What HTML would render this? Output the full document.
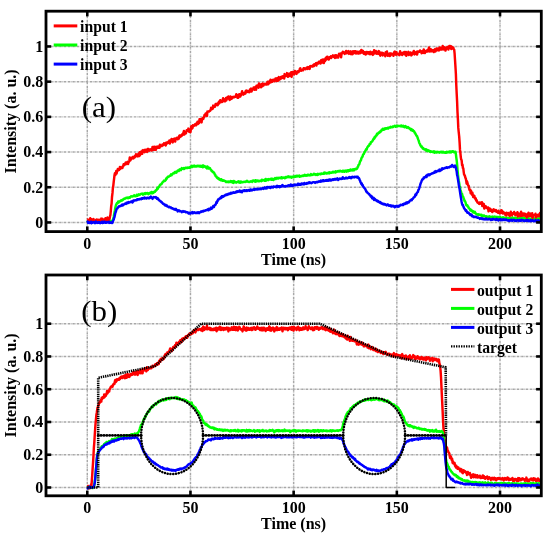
<!DOCTYPE html>
<html><head><meta charset="utf-8"><title>Pulse shaping</title>
<style>html,body{margin:0;padding:0;background:#fff}svg{display:block}</style></head>
<body>
<svg width="550" height="536" viewBox="0 0 550 536">
<style>text{font-family:"Liberation Serif",serif;fill:#000}.b{font-weight:bold;font-size:16px}.lg{font-size:15.7px}.p{font-size:29.6px}</style>
<rect width="550" height="536" fill="#fff"/>
<line x1="87.28" y1="11.2" x2="87.28" y2="231.6" stroke="#a8a8a8" stroke-width="1.45" stroke-dasharray="2.4 0.7 0.6 0.7"/>
<line x1="190.46" y1="11.2" x2="190.46" y2="231.6" stroke="#a8a8a8" stroke-width="1.45" stroke-dasharray="2.4 0.7 0.6 0.7"/>
<line x1="293.65" y1="11.2" x2="293.65" y2="231.6" stroke="#a8a8a8" stroke-width="1.45" stroke-dasharray="2.4 0.7 0.6 0.7"/>
<line x1="396.84" y1="11.2" x2="396.84" y2="231.6" stroke="#a8a8a8" stroke-width="1.45" stroke-dasharray="2.4 0.7 0.6 0.7"/>
<line x1="500.02" y1="11.2" x2="500.02" y2="231.6" stroke="#a8a8a8" stroke-width="1.45" stroke-dasharray="2.4 0.7 0.6 0.7"/>
<line x1="46.0" y1="222.45" x2="541.3" y2="222.45" stroke="#a8a8a8" stroke-width="1.45" stroke-dasharray="2.4 0.7 0.6 0.7"/>
<line x1="46.0" y1="187.25" x2="541.3" y2="187.25" stroke="#a8a8a8" stroke-width="1.45" stroke-dasharray="2.4 0.7 0.6 0.7"/>
<line x1="46.0" y1="152.05" x2="541.3" y2="152.05" stroke="#a8a8a8" stroke-width="1.45" stroke-dasharray="2.4 0.7 0.6 0.7"/>
<line x1="46.0" y1="116.85" x2="541.3" y2="116.85" stroke="#a8a8a8" stroke-width="1.45" stroke-dasharray="2.4 0.7 0.6 0.7"/>
<line x1="46.0" y1="81.65" x2="541.3" y2="81.65" stroke="#a8a8a8" stroke-width="1.45" stroke-dasharray="2.4 0.7 0.6 0.7"/>
<line x1="46.0" y1="46.45" x2="541.3" y2="46.45" stroke="#a8a8a8" stroke-width="1.45" stroke-dasharray="2.4 0.7 0.6 0.7"/>
<clipPath id="c1"><rect x="46.0" y="11.2" width="495.30" height="220.40"/></clipPath>
<g clip-path="url(#c1)" fill="none" stroke-linejoin="round" stroke-width="2.45">
<path d="M87.3 220.4 L87.7 221.1 L88.1 221.3 L88.5 221.5 L88.9 221.6 L89.3 221.5 L89.8 221.6 L90.2 221.1 L90.6 221.5 L91.0 221.6 L91.4 221.9 L91.8 221.4 L92.2 221.7 L92.6 221.5 L93.1 221.0 L93.5 221.3 L93.9 221.2 L94.3 221.3 L94.7 221.4 L95.1 221.4 L95.5 221.5 L95.9 221.1 L96.4 221.8 L96.8 220.9 L97.2 221.4 L97.6 221.7 L98.0 221.6 L98.4 221.7 L98.8 221.3 L99.2 221.7 L99.7 221.0 L100.1 221.7 L100.5 222.3 L100.9 221.7 L101.3 222.2 L101.7 221.4 L102.1 221.0 L102.5 221.1 L103.0 221.9 L103.4 221.7 L103.8 220.7 L104.2 221.3 L104.6 221.4 L105.0 221.0 L105.4 220.4 L105.8 220.9 L106.3 221.3 L106.7 221.3 L107.1 221.2 L107.5 221.6 L107.9 221.8 L108.3 221.4 L108.7 221.8 L109.2 221.4 L109.6 221.4 L110.0 220.5 L110.4 221.7 L110.8 221.4 L111.2 221.5 L111.6 221.2 L112.0 220.7 L112.5 220.6 L112.9 219.7 L113.3 218.7 L113.7 216.9 L114.1 214.5 L114.5 212.4 L114.9 210.3 L115.3 207.7 L115.8 205.8 L116.2 204.3 L116.6 203.9 L117.0 203.1 L117.4 203.3 L117.8 202.7 L118.2 201.4 L118.6 202.6 L119.1 201.7 L119.5 201.2 L119.9 201.2 L120.3 201.2 L120.7 200.6 L121.1 200.4 L121.5 200.2 L121.9 200.6 L122.4 199.8 L122.8 199.9 L123.2 199.6 L123.6 199.1 L124.0 198.8 L124.4 198.6 L124.8 199.0 L125.2 198.3 L125.7 198.1 L126.1 197.9 L126.5 197.7 L126.9 198.1 L127.3 198.0 L127.7 197.5 L128.1 198.2 L128.6 197.4 L129.0 197.6 L129.4 197.4 L129.8 197.8 L130.2 197.3 L130.6 196.8 L131.0 196.4 L131.4 196.2 L131.9 196.5 L132.3 196.5 L132.7 196.6 L133.1 196.1 L133.5 196.2 L133.9 195.8 L134.3 195.2 L134.7 195.8 L135.2 196.3 L135.6 196.0 L136.0 196.1 L136.4 195.9 L136.8 194.8 L137.2 195.1 L137.6 195.7 L138.0 194.8 L138.5 194.4 L138.9 195.0 L139.3 195.0 L139.7 194.8 L140.1 194.4 L140.5 194.2 L140.9 193.9 L141.3 193.8 L141.8 193.7 L142.2 193.6 L142.6 193.8 L143.0 194.6 L143.4 194.0 L143.8 193.8 L144.2 194.0 L144.6 193.4 L145.1 193.9 L145.5 194.0 L145.9 193.1 L146.3 193.3 L146.7 193.4 L147.1 193.1 L147.5 193.0 L147.9 193.2 L148.4 194.2 L148.8 193.5 L149.2 193.3 L149.6 193.5 L150.0 193.0 L150.4 192.5 L150.8 193.1 L151.3 193.3 L151.7 192.0 L152.1 192.9 L152.5 193.2 L152.9 192.5 L153.3 192.3 L153.7 192.6 L154.1 191.7 L154.6 191.8 L155.0 191.7 L155.4 190.9 L155.8 190.3 L156.2 190.5 L156.6 189.7 L157.0 189.4 L157.4 187.7 L157.9 188.6 L158.3 187.2 L158.7 187.2 L159.1 186.7 L159.5 185.9 L159.9 185.3 L160.3 184.6 L160.7 184.4 L161.2 184.3 L161.6 183.9 L162.0 183.0 L162.4 182.6 L162.8 181.9 L163.2 181.8 L163.6 181.2 L164.0 180.6 L164.5 180.7 L164.9 180.9 L165.3 180.4 L165.7 180.1 L166.1 178.5 L166.5 179.1 L166.9 177.8 L167.3 177.7 L167.8 176.8 L168.2 176.7 L168.6 176.8 L169.0 176.5 L169.4 176.1 L169.8 175.8 L170.2 175.7 L170.7 175.3 L171.1 174.3 L171.5 175.3 L171.9 174.3 L172.3 174.5 L172.7 173.7 L173.1 173.2 L173.5 173.3 L174.0 172.7 L174.4 173.3 L174.8 172.1 L175.2 172.5 L175.6 171.9 L176.0 171.8 L176.4 172.7 L176.8 171.8 L177.3 171.2 L177.7 170.5 L178.1 170.7 L178.5 170.5 L178.9 171.0 L179.3 169.7 L179.7 169.3 L180.1 169.8 L180.6 169.7 L181.0 170.1 L181.4 168.9 L181.8 168.1 L182.2 168.7 L182.6 168.4 L183.0 168.6 L183.4 169.0 L183.9 168.0 L184.3 168.9 L184.7 168.4 L185.1 168.1 L185.5 167.8 L185.9 167.8 L186.3 167.7 L186.7 168.0 L187.2 168.1 L187.6 167.5 L188.0 167.7 L188.4 167.8 L188.8 167.7 L189.2 167.2 L189.6 167.7 L190.0 167.4 L190.5 167.4 L190.9 166.6 L191.3 166.4 L191.7 165.8 L192.1 167.1 L192.5 166.7 L192.9 166.0 L193.4 166.4 L193.8 166.4 L194.2 165.6 L194.6 166.3 L195.0 166.6 L195.4 166.6 L195.8 165.9 L196.2 165.9 L196.7 166.5 L197.1 166.3 L197.5 165.7 L197.9 165.7 L198.3 166.2 L198.7 165.7 L199.1 165.7 L199.5 166.6 L200.0 166.1 L200.4 165.8 L200.8 166.2 L201.2 166.8 L201.6 166.2 L202.0 165.9 L202.4 165.6 L202.8 167.2 L203.3 165.4 L203.7 166.9 L204.1 166.2 L204.5 166.2 L204.9 166.4 L205.3 166.8 L205.7 167.4 L206.1 166.8 L206.6 167.5 L207.0 168.4 L207.4 166.5 L207.8 167.5 L208.2 167.3 L208.6 168.5 L209.0 167.8 L209.4 167.9 L209.9 168.1 L210.3 169.0 L210.7 169.7 L211.1 169.7 L211.5 170.9 L211.9 171.2 L212.3 171.0 L212.8 171.9 L213.2 172.2 L213.6 172.7 L214.0 172.5 L214.4 173.4 L214.8 174.6 L215.2 174.7 L215.6 176.1 L216.1 176.5 L216.5 176.5 L216.9 177.7 L217.3 177.7 L217.7 178.4 L218.1 178.2 L218.5 178.0 L218.9 179.2 L219.4 179.0 L219.8 179.7 L220.2 180.0 L220.6 180.2 L221.0 179.3 L221.4 179.2 L221.8 180.0 L222.2 180.6 L222.7 180.2 L223.1 180.7 L223.5 180.3 L223.9 180.6 L224.3 180.7 L224.7 180.7 L225.1 181.2 L225.5 181.3 L226.0 181.9 L226.4 181.5 L226.8 181.9 L227.2 181.5 L227.6 181.9 L228.0 181.6 L228.4 181.5 L228.8 182.2 L229.3 182.0 L229.7 182.1 L230.1 181.4 L230.5 181.1 L230.9 181.4 L231.3 181.9 L231.7 181.2 L232.2 182.4 L232.6 181.3 L233.0 182.1 L233.4 183.0 L233.8 180.9 L234.2 181.3 L234.6 182.3 L235.0 181.9 L235.5 182.1 L235.9 182.0 L236.3 182.6 L236.7 182.3 L237.1 181.9 L237.5 182.0 L237.9 181.6 L238.3 182.1 L238.8 181.2 L239.2 182.4 L239.6 182.0 L240.0 182.8 L240.4 182.5 L240.8 181.5 L241.2 182.4 L241.6 181.8 L242.1 182.0 L242.5 182.3 L242.9 182.1 L243.3 182.1 L243.7 182.1 L244.1 181.6 L244.5 181.6 L244.9 182.0 L245.4 182.1 L245.8 181.6 L246.2 181.8 L246.6 181.3 L247.0 180.7 L247.4 181.3 L247.8 181.7 L248.2 181.7 L248.7 181.9 L249.1 181.9 L249.5 181.9 L249.9 181.7 L250.3 181.7 L250.7 181.2 L251.1 181.6 L251.5 181.5 L252.0 181.9 L252.4 180.8 L252.8 181.2 L253.2 180.6 L253.6 181.0 L254.0 180.7 L254.4 181.4 L254.9 181.0 L255.3 180.2 L255.7 181.7 L256.1 180.7 L256.5 180.5 L256.9 181.0 L257.3 180.8 L257.7 180.6 L258.2 181.3 L258.6 180.8 L259.0 181.3 L259.4 181.1 L259.8 181.1 L260.2 180.8 L260.6 180.6 L261.0 180.5 L261.5 181.1 L261.9 179.7 L262.3 180.0 L262.7 180.1 L263.1 180.5 L263.5 180.3 L263.9 180.0 L264.3 180.0 L264.8 180.8 L265.2 179.8 L265.6 178.9 L266.0 180.7 L266.4 179.5 L266.8 179.7 L267.2 179.8 L267.6 179.2 L268.1 180.1 L268.5 179.5 L268.9 179.0 L269.3 179.6 L269.7 179.6 L270.1 179.3 L270.5 179.5 L270.9 178.7 L271.4 179.6 L271.8 178.8 L272.2 179.6 L272.6 178.8 L273.0 179.0 L273.4 180.0 L273.8 178.9 L274.3 179.2 L274.7 178.9 L275.1 178.1 L275.5 179.1 L275.9 179.0 L276.3 178.0 L276.7 178.4 L277.1 177.8 L277.6 178.3 L278.0 178.7 L278.4 178.3 L278.8 177.7 L279.2 177.8 L279.6 178.1 L280.0 178.1 L280.4 178.1 L280.9 178.2 L281.3 177.2 L281.7 177.9 L282.1 178.3 L282.5 178.0 L282.9 177.5 L283.3 177.5 L283.7 177.7 L284.2 177.9 L284.6 177.6 L285.0 178.2 L285.4 178.0 L285.8 177.1 L286.2 177.6 L286.6 177.2 L287.0 176.8 L287.5 177.0 L287.9 177.2 L288.3 176.3 L288.7 176.8 L289.1 177.2 L289.5 176.7 L289.9 176.8 L290.3 177.3 L290.8 176.8 L291.2 176.9 L291.6 177.6 L292.0 176.8 L292.4 176.8 L292.8 176.8 L293.2 177.2 L293.6 176.7 L294.1 176.5 L294.5 176.4 L294.9 176.9 L295.3 176.1 L295.7 176.8 L296.1 176.4 L296.5 175.7 L297.0 176.5 L297.4 176.4 L297.8 175.7 L298.2 176.3 L298.6 176.2 L299.0 175.9 L299.4 175.6 L299.8 176.8 L300.3 176.2 L300.7 176.3 L301.1 176.3 L301.5 176.1 L301.9 176.1 L302.3 175.6 L302.7 176.0 L303.1 175.6 L303.6 175.4 L304.0 175.9 L304.4 175.5 L304.8 174.8 L305.2 175.3 L305.6 175.7 L306.0 175.4 L306.4 175.7 L306.9 175.2 L307.3 174.9 L307.7 175.5 L308.1 175.3 L308.5 174.7 L308.9 175.3 L309.3 175.0 L309.7 175.4 L310.2 175.3 L310.6 175.1 L311.0 174.1 L311.4 175.0 L311.8 175.0 L312.2 175.0 L312.6 174.8 L313.0 174.5 L313.5 174.6 L313.9 173.8 L314.3 174.5 L314.7 174.0 L315.1 174.4 L315.5 174.2 L315.9 174.9 L316.4 174.4 L316.8 174.3 L317.2 174.3 L317.6 175.0 L318.0 173.8 L318.4 174.2 L318.8 174.2 L319.2 174.0 L319.7 174.0 L320.1 173.7 L320.5 174.3 L320.9 174.1 L321.3 173.5 L321.7 173.5 L322.1 173.7 L322.5 173.7 L323.0 173.7 L323.4 173.4 L323.8 172.9 L324.2 173.7 L324.6 172.6 L325.0 172.8 L325.4 173.3 L325.8 172.7 L326.3 173.5 L326.7 173.6 L327.1 173.4 L327.5 173.0 L327.9 172.9 L328.3 172.9 L328.7 172.6 L329.1 173.4 L329.6 172.3 L330.0 173.0 L330.4 172.7 L330.8 172.5 L331.2 172.8 L331.6 172.8 L332.0 172.6 L332.4 172.1 L332.9 171.8 L333.3 171.8 L333.7 172.4 L334.1 172.2 L334.5 172.2 L334.9 171.7 L335.3 172.6 L335.8 171.3 L336.2 171.9 L336.6 172.0 L337.0 171.5 L337.4 171.2 L337.8 171.4 L338.2 171.1 L338.6 171.5 L339.1 171.0 L339.5 170.9 L339.9 171.4 L340.3 170.8 L340.7 171.3 L341.1 171.2 L341.5 171.6 L341.9 171.3 L342.4 170.9 L342.8 171.6 L343.2 170.8 L343.6 170.9 L344.0 170.9 L344.4 171.8 L344.8 171.0 L345.2 170.6 L345.7 171.1 L346.1 170.8 L346.5 171.7 L346.9 170.4 L347.3 170.9 L347.7 170.3 L348.1 171.3 L348.5 170.2 L349.0 170.5 L349.4 170.1 L349.8 170.7 L350.2 170.5 L350.6 169.4 L351.0 170.5 L351.4 170.4 L351.8 170.2 L352.3 170.4 L352.7 169.5 L353.1 169.2 L353.5 170.1 L353.9 170.5 L354.3 169.3 L354.7 169.2 L355.1 169.2 L355.6 168.8 L356.0 169.3 L356.4 168.8 L356.8 168.9 L357.2 168.5 L357.6 167.0 L358.0 166.9 L358.5 165.0 L358.9 164.9 L359.3 164.3 L359.7 162.7 L360.1 161.3 L360.5 160.8 L360.9 160.4 L361.3 158.7 L361.8 157.4 L362.2 157.1 L362.6 156.4 L363.0 154.8 L363.4 154.3 L363.8 154.0 L364.2 152.9 L364.6 152.3 L365.1 151.2 L365.5 150.6 L365.9 149.6 L366.3 149.1 L366.7 149.4 L367.1 148.0 L367.5 147.1 L367.9 146.7 L368.4 145.8 L368.8 145.8 L369.2 145.4 L369.6 144.0 L370.0 144.2 L370.4 144.0 L370.8 142.2 L371.2 142.3 L371.7 141.6 L372.1 141.5 L372.5 140.9 L372.9 140.3 L373.3 139.4 L373.7 138.6 L374.1 139.0 L374.5 137.3 L375.0 137.5 L375.4 136.9 L375.8 135.7 L376.2 135.4 L376.6 135.5 L377.0 133.8 L377.4 134.4 L377.9 133.7 L378.3 133.3 L378.7 132.5 L379.1 132.9 L379.5 131.9 L379.9 132.3 L380.3 131.2 L380.7 131.6 L381.2 131.1 L381.6 129.8 L382.0 130.1 L382.4 129.9 L382.8 128.8 L383.2 129.3 L383.6 129.6 L384.0 128.8 L384.5 129.5 L384.9 128.4 L385.3 128.3 L385.7 128.8 L386.1 128.7 L386.5 128.3 L386.9 128.2 L387.3 128.4 L387.8 127.7 L388.2 128.6 L388.6 127.8 L389.0 127.7 L389.4 127.5 L389.8 127.2 L390.2 127.6 L390.6 126.8 L391.1 127.0 L391.5 127.1 L391.9 127.3 L392.3 127.2 L392.7 126.5 L393.1 127.0 L393.5 126.6 L393.9 126.1 L394.4 126.1 L394.8 125.8 L395.2 126.5 L395.6 126.8 L396.0 125.9 L396.4 126.1 L396.8 125.8 L397.3 126.2 L397.7 125.7 L398.1 125.9 L398.5 125.9 L398.9 126.0 L399.3 126.0 L399.7 126.1 L400.1 126.1 L400.6 125.8 L401.0 126.4 L401.4 125.6 L401.8 126.3 L402.2 126.0 L402.6 126.5 L403.0 126.6 L403.4 125.8 L403.9 126.8 L404.3 127.2 L404.7 127.1 L405.1 127.0 L405.5 126.1 L405.9 127.0 L406.3 126.8 L406.7 127.7 L407.2 127.3 L407.6 127.3 L408.0 127.0 L408.4 128.1 L408.8 127.7 L409.2 128.0 L409.6 128.7 L410.0 128.5 L410.5 128.9 L410.9 130.0 L411.3 129.1 L411.7 129.4 L412.1 130.1 L412.5 130.8 L412.9 130.1 L413.3 131.0 L413.8 131.1 L414.2 131.4 L414.6 132.7 L415.0 132.7 L415.4 133.8 L415.8 134.4 L416.2 135.1 L416.6 135.8 L417.1 136.2 L417.5 137.5 L417.9 138.6 L418.3 139.7 L418.7 140.6 L419.1 142.3 L419.5 143.4 L420.0 144.2 L420.4 145.3 L420.8 145.9 L421.2 146.7 L421.6 146.2 L422.0 147.1 L422.4 147.9 L422.8 148.5 L423.3 148.0 L423.7 149.0 L424.1 149.3 L424.5 149.4 L424.9 149.6 L425.3 149.3 L425.7 150.1 L426.1 149.4 L426.6 150.8 L427.0 150.3 L427.4 151.1 L427.8 150.1 L428.2 151.0 L428.6 151.0 L429.0 150.7 L429.4 150.7 L429.9 151.7 L430.3 151.4 L430.7 151.9 L431.1 151.4 L431.5 151.5 L431.9 151.7 L432.3 151.9 L432.7 151.8 L433.2 152.1 L433.6 151.6 L434.0 151.3 L434.4 152.7 L434.8 152.0 L435.2 152.2 L435.6 151.9 L436.0 152.4 L436.5 152.1 L436.9 152.5 L437.3 151.8 L437.7 152.1 L438.1 152.2 L438.5 152.0 L438.9 152.2 L439.4 152.7 L439.8 151.9 L440.2 152.0 L440.6 152.2 L441.0 151.8 L441.4 151.7 L441.8 152.6 L442.2 152.5 L442.7 151.6 L443.1 151.6 L443.5 152.5 L443.9 152.6 L444.3 152.4 L444.7 152.4 L445.1 152.8 L445.5 152.2 L446.0 152.7 L446.4 152.7 L446.8 151.9 L447.2 152.5 L447.6 152.2 L448.0 151.9 L448.4 151.8 L448.8 152.2 L449.3 152.0 L449.7 152.4 L450.1 151.3 L450.5 151.7 L450.9 152.4 L451.3 151.9 L451.7 151.6 L452.1 151.7 L452.6 151.2 L453.0 151.3 L453.4 152.0 L453.8 151.8 L454.2 152.3 L454.6 151.7 L455.0 151.9 L455.4 151.8 L455.9 154.2 L456.3 157.6 L456.7 160.5 L457.1 164.3 L457.5 169.5 L457.9 173.8 L458.3 177.4 L458.7 180.4 L459.2 183.2 L459.6 185.8 L460.0 187.2 L460.4 189.5 L460.8 190.9 L461.2 192.4 L461.6 193.4 L462.1 193.9 L462.5 195.9 L462.9 196.4 L463.3 197.1 L463.7 198.5 L464.1 199.3 L464.5 200.9 L464.9 200.9 L465.4 202.0 L465.8 203.3 L466.2 204.9 L466.6 205.4 L467.0 205.2 L467.4 205.4 L467.8 206.5 L468.2 206.7 L468.7 208.0 L469.1 208.3 L469.5 208.8 L469.9 209.1 L470.3 210.3 L470.7 209.6 L471.1 209.8 L471.5 211.0 L472.0 211.3 L472.4 210.9 L472.8 211.6 L473.2 212.5 L473.6 211.6 L474.0 212.1 L474.4 212.6 L474.8 211.9 L475.3 212.9 L475.7 213.5 L476.1 213.5 L476.5 214.2 L476.9 214.3 L477.3 214.2 L477.7 214.7 L478.1 214.9 L478.6 214.2 L479.0 214.6 L479.4 214.7 L479.8 214.9 L480.2 215.0 L480.6 214.7 L481.0 215.4 L481.5 214.7 L481.9 215.9 L482.3 215.7 L482.7 216.2 L483.1 215.9 L483.5 215.7 L483.9 215.4 L484.3 216.3 L484.8 216.1 L485.2 216.3 L485.6 216.6 L486.0 216.8 L486.4 216.4 L486.8 217.2 L487.2 216.6 L487.6 216.7 L488.1 217.0 L488.5 217.3 L488.9 217.5 L489.3 216.3 L489.7 217.6 L490.1 216.6 L490.5 217.0 L490.9 217.4 L491.4 217.7 L491.8 216.9 L492.2 216.6 L492.6 217.7 L493.0 217.5 L493.4 217.0 L493.8 217.3 L494.2 216.6 L494.7 217.6 L495.1 217.2 L495.5 218.0 L495.9 216.7 L496.3 217.8 L496.7 218.4 L497.1 217.6 L497.5 217.6 L498.0 216.9 L498.4 217.8 L498.8 217.7 L499.2 217.4 L499.6 217.1 L500.0 217.7 L500.4 217.3 L500.9 217.6 L501.3 217.9 L501.7 217.8 L502.1 217.8 L502.5 218.2 L502.9 217.4 L503.3 218.4 L503.7 217.5 L504.2 217.6 L504.6 218.0 L505.0 218.3 L505.4 218.1 L505.8 217.9 L506.2 217.8 L506.6 218.0 L507.0 217.7 L507.5 218.3 L507.9 218.1 L508.3 218.8 L508.7 217.9 L509.1 218.2 L509.5 218.4 L509.9 217.8 L510.3 218.0 L510.8 219.3 L511.2 218.2 L511.6 218.8 L512.0 217.9 L512.4 217.3 L512.8 218.5 L513.2 218.3 L513.6 218.4 L514.1 218.2 L514.5 218.1 L514.9 217.8 L515.3 218.7 L515.7 217.7 L516.1 218.7 L516.5 218.2 L516.9 217.9 L517.4 218.1 L517.8 218.7 L518.2 218.6 L518.6 218.6 L519.0 218.4 L519.4 217.9 L519.8 218.9 L520.2 218.2 L520.7 218.2 L521.1 218.2 L521.5 218.2 L521.9 217.8 L522.3 218.3 L522.7 218.1 L523.1 218.2 L523.6 217.8 L524.0 219.2 L524.4 218.0 L524.8 218.6 L525.2 218.6 L525.6 218.9 L526.0 219.2 L526.4 218.7 L526.9 218.8 L527.3 218.3 L527.7 219.1 L528.1 218.0 L528.5 218.4 L528.9 218.6 L529.3 218.8 L529.7 218.9 L530.2 219.0 L530.6 218.8 L531.0 218.6 L531.4 218.7 L531.8 219.1 L532.2 218.7 L532.6 219.0 L533.0 218.6 L533.5 217.9 L533.9 218.4 L534.3 218.8 L534.7 219.3 L535.1 219.2 L535.5 219.3 L535.9 218.4 L536.3 219.0 L536.8 218.7 L537.2 218.9 L537.6 218.7 L538.0 218.2 L538.4 219.0 L538.8 218.8 L539.2 219.0 L539.6 218.4 L540.1 219.1 L540.5 219.2 L540.9 219.3 L541.3 219.3" stroke="#00ff00"/>
<path d="M87.3 219.8 L87.7 219.5 L88.1 220.1 L88.5 220.8 L88.9 220.3 L89.3 220.9 L89.8 219.7 L90.2 218.3 L90.6 220.4 L91.0 220.5 L91.4 219.2 L91.8 219.4 L92.2 219.7 L92.6 220.9 L93.1 219.8 L93.5 219.0 L93.9 221.3 L94.3 220.3 L94.7 222.0 L95.1 221.3 L95.5 221.9 L95.9 220.1 L96.4 221.3 L96.8 219.5 L97.2 219.6 L97.6 220.0 L98.0 222.7 L98.4 220.4 L98.8 219.9 L99.2 219.7 L99.7 221.6 L100.1 220.4 L100.5 220.9 L100.9 220.7 L101.3 218.6 L101.7 220.7 L102.1 219.8 L102.5 218.8 L103.0 220.5 L103.4 219.9 L103.8 219.7 L104.2 219.7 L104.6 221.2 L105.0 219.7 L105.4 218.3 L105.8 221.6 L106.3 218.8 L106.7 219.7 L107.1 220.5 L107.5 217.5 L107.9 218.9 L108.3 221.2 L108.7 219.7 L109.2 218.7 L109.6 218.7 L110.0 216.4 L110.4 215.0 L110.8 211.0 L111.2 206.1 L111.6 203.5 L112.0 197.0 L112.5 192.9 L112.9 187.9 L113.3 185.6 L113.7 181.8 L114.1 178.7 L114.5 175.2 L114.9 173.3 L115.3 175.0 L115.8 173.5 L116.2 171.1 L116.6 173.6 L117.0 171.6 L117.4 170.8 L117.8 169.0 L118.2 169.3 L118.6 170.2 L119.1 169.9 L119.5 169.4 L119.9 167.0 L120.3 168.9 L120.7 168.4 L121.1 167.3 L121.5 167.5 L121.9 167.2 L122.4 167.9 L122.8 166.3 L123.2 166.5 L123.6 164.3 L124.0 164.5 L124.4 164.9 L124.8 163.8 L125.2 164.5 L125.7 162.6 L126.1 163.4 L126.5 162.4 L126.9 164.1 L127.3 161.9 L127.7 163.8 L128.1 163.9 L128.6 161.5 L129.0 161.8 L129.4 160.2 L129.8 157.5 L130.2 160.6 L130.6 160.0 L131.0 158.7 L131.4 158.1 L131.9 158.6 L132.3 158.3 L132.7 157.0 L133.1 156.9 L133.5 158.4 L133.9 157.0 L134.3 156.6 L134.7 157.5 L135.2 155.7 L135.6 156.7 L136.0 154.3 L136.4 154.9 L136.8 154.8 L137.2 155.3 L137.6 154.5 L138.0 156.4 L138.5 155.2 L138.9 153.3 L139.3 156.0 L139.7 152.3 L140.1 155.1 L140.5 152.0 L140.9 153.7 L141.3 151.6 L141.8 152.1 L142.2 153.8 L142.6 150.4 L143.0 150.0 L143.4 151.6 L143.8 151.7 L144.2 151.4 L144.6 152.2 L145.1 149.7 L145.5 151.5 L145.9 150.8 L146.3 151.5 L146.7 151.2 L147.1 151.9 L147.5 148.9 L147.9 150.3 L148.4 149.0 L148.8 149.9 L149.2 150.6 L149.6 150.1 L150.0 150.2 L150.4 149.4 L150.8 149.7 L151.3 149.5 L151.7 150.6 L152.1 149.8 L152.5 146.9 L152.9 149.4 L153.3 149.7 L153.7 148.0 L154.1 146.7 L154.6 149.8 L155.0 148.3 L155.4 148.6 L155.8 149.8 L156.2 146.8 L156.6 147.5 L157.0 147.2 L157.4 148.0 L157.9 146.5 L158.3 147.5 L158.7 146.8 L159.1 147.8 L159.5 147.8 L159.9 144.7 L160.3 146.7 L160.7 145.6 L161.2 145.8 L161.6 146.1 L162.0 146.0 L162.4 144.6 L162.8 145.5 L163.2 145.1 L163.6 144.7 L164.0 143.3 L164.5 143.7 L164.9 143.8 L165.3 144.7 L165.7 145.5 L166.1 142.7 L166.5 142.5 L166.9 143.6 L167.3 142.6 L167.8 142.2 L168.2 141.9 L168.6 141.6 L169.0 143.0 L169.4 140.5 L169.8 143.5 L170.2 140.8 L170.7 141.0 L171.1 140.4 L171.5 139.0 L171.9 139.3 L172.3 142.0 L172.7 142.4 L173.1 139.3 L173.5 141.2 L174.0 139.8 L174.4 138.6 L174.8 141.2 L175.2 141.5 L175.6 138.5 L176.0 138.5 L176.4 138.5 L176.8 137.9 L177.3 138.7 L177.7 139.2 L178.1 137.4 L178.5 138.0 L178.9 138.5 L179.3 135.8 L179.7 136.2 L180.1 135.4 L180.6 136.7 L181.0 136.0 L181.4 136.1 L181.8 135.7 L182.2 134.2 L182.6 135.0 L183.0 133.4 L183.4 133.1 L183.9 130.9 L184.3 134.5 L184.7 131.6 L185.1 132.4 L185.5 132.0 L185.9 133.4 L186.3 132.0 L186.7 130.3 L187.2 130.9 L187.6 130.4 L188.0 130.6 L188.4 128.6 L188.8 129.7 L189.2 131.9 L189.6 129.8 L190.0 131.0 L190.5 132.2 L190.9 128.7 L191.3 126.3 L191.7 127.5 L192.1 128.5 L192.5 128.0 L192.9 125.3 L193.4 126.1 L193.8 125.9 L194.2 125.7 L194.6 125.3 L195.0 124.1 L195.4 124.1 L195.8 124.2 L196.2 125.3 L196.7 123.1 L197.1 124.1 L197.5 121.8 L197.9 124.1 L198.3 122.5 L198.7 122.0 L199.1 123.1 L199.5 119.3 L200.0 119.2 L200.4 121.1 L200.8 119.3 L201.2 119.4 L201.6 122.4 L202.0 118.7 L202.4 118.6 L202.8 118.0 L203.3 118.9 L203.7 117.6 L204.1 117.1 L204.5 115.1 L204.9 115.6 L205.3 115.6 L205.7 113.4 L206.1 115.4 L206.6 114.7 L207.0 115.9 L207.4 111.6 L207.8 111.9 L208.2 111.5 L208.6 111.4 L209.0 111.6 L209.4 111.0 L209.9 111.1 L210.3 110.6 L210.7 109.9 L211.1 107.8 L211.5 108.4 L211.9 108.7 L212.3 108.9 L212.8 108.6 L213.2 105.6 L213.6 106.4 L214.0 106.5 L214.4 106.6 L214.8 107.0 L215.2 105.4 L215.6 104.0 L216.1 105.1 L216.5 104.5 L216.9 104.3 L217.3 103.6 L217.7 105.3 L218.1 103.5 L218.5 103.9 L218.9 101.7 L219.4 103.3 L219.8 101.5 L220.2 100.2 L220.6 102.0 L221.0 102.1 L221.4 101.0 L221.8 101.0 L222.2 101.9 L222.7 100.1 L223.1 98.2 L223.5 100.7 L223.9 100.5 L224.3 101.3 L224.7 99.6 L225.1 101.2 L225.5 100.9 L226.0 98.1 L226.4 100.4 L226.8 98.0 L227.2 97.4 L227.6 98.7 L228.0 98.2 L228.4 96.5 L228.8 98.8 L229.3 99.1 L229.7 99.9 L230.1 98.2 L230.5 96.4 L230.9 96.9 L231.3 98.9 L231.7 98.7 L232.2 98.2 L232.6 97.1 L233.0 97.6 L233.4 97.0 L233.8 96.7 L234.2 97.3 L234.6 96.9 L235.0 96.5 L235.5 96.7 L235.9 95.9 L236.3 94.2 L236.7 95.5 L237.1 95.9 L237.5 97.7 L237.9 95.2 L238.3 97.7 L238.8 96.9 L239.2 94.1 L239.6 94.1 L240.0 94.9 L240.4 96.5 L240.8 94.8 L241.2 94.9 L241.6 93.2 L242.1 91.2 L242.5 93.4 L242.9 94.3 L243.3 94.6 L243.7 93.1 L244.1 93.1 L244.5 94.0 L244.9 92.4 L245.4 93.6 L245.8 90.9 L246.2 90.7 L246.6 90.5 L247.0 92.1 L247.4 90.8 L247.8 91.4 L248.2 91.5 L248.7 91.2 L249.1 92.2 L249.5 92.1 L249.9 89.4 L250.3 90.3 L250.7 89.7 L251.1 88.6 L251.5 91.6 L252.0 90.3 L252.4 89.0 L252.8 88.6 L253.2 89.3 L253.6 87.5 L254.0 88.2 L254.4 89.7 L254.9 89.2 L255.3 87.0 L255.7 87.2 L256.1 89.7 L256.5 85.8 L256.9 86.5 L257.3 85.5 L257.7 87.3 L258.2 87.0 L258.6 87.7 L259.0 83.4 L259.4 86.3 L259.8 84.1 L260.2 86.5 L260.6 85.4 L261.0 87.3 L261.5 85.6 L261.9 83.9 L262.3 86.3 L262.7 83.4 L263.1 84.1 L263.5 85.5 L263.9 84.7 L264.3 84.5 L264.8 83.9 L265.2 84.3 L265.6 84.5 L266.0 83.7 L266.4 84.4 L266.8 84.5 L267.2 82.9 L267.6 81.7 L268.1 84.3 L268.5 82.4 L268.9 83.0 L269.3 83.2 L269.7 80.9 L270.1 82.3 L270.5 79.8 L270.9 82.3 L271.4 80.8 L271.8 81.3 L272.2 81.8 L272.6 80.1 L273.0 80.7 L273.4 79.7 L273.8 80.3 L274.3 81.3 L274.7 80.0 L275.1 79.7 L275.5 78.5 L275.9 80.5 L276.3 79.3 L276.7 81.1 L277.1 78.2 L277.6 80.0 L278.0 80.7 L278.4 78.6 L278.8 77.1 L279.2 79.9 L279.6 79.3 L280.0 78.7 L280.4 79.0 L280.9 77.1 L281.3 78.4 L281.7 78.1 L282.1 76.5 L282.5 77.8 L282.9 76.3 L283.3 77.8 L283.7 77.9 L284.2 78.5 L284.6 74.1 L285.0 76.4 L285.4 75.7 L285.8 75.8 L286.2 75.4 L286.6 75.4 L287.0 73.1 L287.5 76.4 L287.9 76.8 L288.3 76.0 L288.7 76.3 L289.1 73.7 L289.5 73.5 L289.9 75.4 L290.3 75.7 L290.8 74.4 L291.2 72.2 L291.6 76.9 L292.0 72.9 L292.4 74.6 L292.8 72.0 L293.2 74.3 L293.6 73.2 L294.1 74.5 L294.5 73.7 L294.9 70.9 L295.3 71.3 L295.7 72.6 L296.1 72.9 L296.5 73.9 L297.0 72.1 L297.4 71.5 L297.8 71.4 L298.2 71.2 L298.6 72.2 L299.0 70.9 L299.4 70.7 L299.8 69.0 L300.3 68.2 L300.7 70.3 L301.1 70.8 L301.5 69.9 L301.9 70.3 L302.3 70.3 L302.7 69.4 L303.1 70.3 L303.6 68.3 L304.0 68.9 L304.4 68.3 L304.8 68.7 L305.2 69.1 L305.6 69.2 L306.0 68.2 L306.4 68.4 L306.9 67.4 L307.3 67.5 L307.7 68.9 L308.1 67.1 L308.5 68.5 L308.9 67.5 L309.3 67.0 L309.7 68.9 L310.2 66.2 L310.6 66.0 L311.0 66.2 L311.4 66.3 L311.8 66.1 L312.2 66.6 L312.6 65.6 L313.0 65.8 L313.5 64.9 L313.9 66.2 L314.3 64.4 L314.7 64.3 L315.1 64.4 L315.5 64.6 L315.9 63.3 L316.4 65.6 L316.8 63.0 L317.2 63.0 L317.6 62.8 L318.0 62.5 L318.4 63.5 L318.8 62.8 L319.2 61.6 L319.7 61.7 L320.1 61.7 L320.5 63.5 L320.9 61.0 L321.3 60.0 L321.7 60.0 L322.1 60.7 L322.5 62.6 L323.0 59.5 L323.4 60.6 L323.8 63.1 L324.2 59.6 L324.6 61.5 L325.0 61.1 L325.4 60.2 L325.8 57.8 L326.3 59.5 L326.7 58.6 L327.1 56.7 L327.5 56.7 L327.9 58.5 L328.3 58.5 L328.7 59.6 L329.1 58.8 L329.6 57.3 L330.0 57.2 L330.4 57.4 L330.8 56.3 L331.2 58.1 L331.6 57.2 L332.0 56.1 L332.4 56.1 L332.9 55.4 L333.3 56.1 L333.7 56.7 L334.1 55.8 L334.5 57.3 L334.9 57.9 L335.3 55.2 L335.8 55.8 L336.2 55.3 L336.6 57.5 L337.0 55.8 L337.4 56.0 L337.8 56.1 L338.2 57.6 L338.6 55.3 L339.1 53.7 L339.5 54.2 L339.9 55.2 L340.3 54.4 L340.7 53.4 L341.1 57.3 L341.5 54.2 L341.9 53.3 L342.4 53.0 L342.8 51.7 L343.2 52.3 L343.6 53.1 L344.0 53.1 L344.4 52.5 L344.8 53.9 L345.2 53.3 L345.7 52.2 L346.1 50.9 L346.5 53.3 L346.9 53.1 L347.3 52.8 L347.7 51.4 L348.1 52.9 L348.5 51.1 L349.0 53.9 L349.4 52.9 L349.8 52.9 L350.2 51.7 L350.6 51.4 L351.0 54.2 L351.4 53.5 L351.8 52.1 L352.3 53.2 L352.7 54.2 L353.1 51.2 L353.5 51.9 L353.9 51.9 L354.3 53.0 L354.7 51.3 L355.1 52.7 L355.6 51.2 L356.0 53.5 L356.4 53.4 L356.8 52.2 L357.2 53.2 L357.6 51.7 L358.0 52.1 L358.5 53.5 L358.9 52.4 L359.3 52.9 L359.7 51.4 L360.1 53.2 L360.5 53.0 L360.9 51.1 L361.3 50.0 L361.8 50.3 L362.2 52.5 L362.6 52.4 L363.0 50.9 L363.4 52.8 L363.8 53.8 L364.2 52.5 L364.6 52.2 L365.1 53.7 L365.5 54.6 L365.9 54.4 L366.3 52.0 L366.7 53.7 L367.1 53.0 L367.5 52.6 L367.9 52.1 L368.4 53.3 L368.8 52.3 L369.2 53.9 L369.6 53.3 L370.0 54.1 L370.4 51.7 L370.8 53.0 L371.2 53.9 L371.7 53.4 L372.1 53.3 L372.5 52.3 L372.9 54.9 L373.3 54.3 L373.7 53.6 L374.1 50.2 L374.5 52.1 L375.0 53.3 L375.4 52.4 L375.8 50.9 L376.2 53.5 L376.6 53.7 L377.0 51.9 L377.4 52.7 L377.9 52.5 L378.3 53.9 L378.7 51.1 L379.1 51.4 L379.5 52.7 L379.9 52.6 L380.3 55.7 L380.7 52.7 L381.2 53.7 L381.6 52.9 L382.0 52.7 L382.4 53.9 L382.8 55.4 L383.2 53.1 L383.6 54.4 L384.0 53.9 L384.5 54.2 L384.9 54.0 L385.3 56.2 L385.7 52.2 L386.1 53.3 L386.5 52.3 L386.9 51.4 L387.3 53.6 L387.8 55.7 L388.2 54.7 L388.6 55.1 L389.0 54.3 L389.4 53.6 L389.8 56.0 L390.2 53.4 L390.6 55.5 L391.1 53.4 L391.5 53.9 L391.9 54.2 L392.3 53.9 L392.7 54.5 L393.1 54.6 L393.5 55.8 L393.9 53.9 L394.4 51.8 L394.8 51.6 L395.2 52.4 L395.6 53.1 L396.0 54.7 L396.4 52.3 L396.8 54.0 L397.3 54.1 L397.7 54.3 L398.1 53.9 L398.5 54.5 L398.9 54.1 L399.3 55.2 L399.7 54.3 L400.1 51.3 L400.6 53.9 L401.0 54.1 L401.4 53.2 L401.8 53.0 L402.2 55.1 L402.6 54.0 L403.0 52.7 L403.4 53.4 L403.9 53.5 L404.3 51.9 L404.7 54.4 L405.1 53.5 L405.5 54.2 L405.9 51.9 L406.3 55.8 L406.7 54.3 L407.2 54.1 L407.6 52.7 L408.0 52.7 L408.4 51.8 L408.8 55.1 L409.2 52.4 L409.6 53.5 L410.0 53.9 L410.5 52.5 L410.9 54.1 L411.3 55.4 L411.7 53.4 L412.1 54.6 L412.5 53.6 L412.9 52.4 L413.3 52.4 L413.8 50.9 L414.2 52.9 L414.6 54.4 L415.0 53.4 L415.4 53.6 L415.8 53.8 L416.2 51.9 L416.6 53.1 L417.1 54.5 L417.5 51.4 L417.9 52.3 L418.3 51.7 L418.7 51.9 L419.1 51.2 L419.5 51.8 L420.0 50.4 L420.4 51.3 L420.8 51.2 L421.2 51.2 L421.6 53.2 L422.0 51.7 L422.4 51.7 L422.8 51.1 L423.3 52.9 L423.7 49.4 L424.1 51.0 L424.5 52.5 L424.9 53.0 L425.3 51.3 L425.7 51.0 L426.1 51.7 L426.6 50.7 L427.0 51.4 L427.4 50.0 L427.8 51.4 L428.2 50.6 L428.6 49.3 L429.0 47.4 L429.4 51.5 L429.9 50.8 L430.3 51.2 L430.7 49.2 L431.1 51.4 L431.5 50.5 L431.9 50.0 L432.3 51.0 L432.7 50.9 L433.2 50.3 L433.6 52.1 L434.0 51.3 L434.4 50.0 L434.8 49.3 L435.2 49.6 L435.6 51.4 L436.0 49.9 L436.5 48.4 L436.9 48.7 L437.3 49.4 L437.7 50.3 L438.1 48.5 L438.5 49.8 L438.9 50.5 L439.4 50.0 L439.8 47.4 L440.2 48.8 L440.6 47.7 L441.0 49.5 L441.4 47.9 L441.8 49.6 L442.2 49.1 L442.7 46.0 L443.1 48.0 L443.5 49.4 L443.9 48.9 L444.3 48.4 L444.7 47.3 L445.1 49.2 L445.5 50.6 L446.0 48.9 L446.4 48.6 L446.8 48.4 L447.2 47.0 L447.6 48.1 L448.0 47.5 L448.4 49.6 L448.8 47.3 L449.3 45.9 L449.7 47.4 L450.1 47.9 L450.5 48.0 L450.9 46.1 L451.3 49.1 L451.7 48.2 L452.1 47.5 L452.6 47.1 L453.0 48.4 L453.4 47.9 L453.8 49.2 L454.2 49.7 L454.6 53.3 L455.0 59.7 L455.4 65.8 L455.9 74.2 L456.3 85.5 L456.7 93.7 L457.1 101.5 L457.5 112.1 L457.9 119.0 L458.3 127.9 L458.7 132.0 L459.2 136.6 L459.6 142.3 L460.0 149.9 L460.4 153.0 L460.8 157.1 L461.2 159.6 L461.6 160.0 L462.1 165.3 L462.5 164.6 L462.9 168.0 L463.3 168.4 L463.7 171.8 L464.1 174.6 L464.5 175.1 L464.9 175.9 L465.4 177.9 L465.8 178.5 L466.2 180.7 L466.6 183.7 L467.0 181.3 L467.4 182.7 L467.8 184.4 L468.2 185.7 L468.7 185.7 L469.1 188.5 L469.5 189.9 L469.9 190.3 L470.3 189.6 L470.7 193.3 L471.1 191.0 L471.5 193.7 L472.0 194.8 L472.4 192.7 L472.8 194.9 L473.2 196.9 L473.6 196.5 L474.0 195.6 L474.4 195.9 L474.8 198.4 L475.3 198.1 L475.7 198.3 L476.1 200.5 L476.5 200.0 L476.9 201.0 L477.3 202.2 L477.7 202.7 L478.1 202.5 L478.6 202.9 L479.0 203.8 L479.4 203.9 L479.8 202.4 L480.2 203.7 L480.6 203.2 L481.0 203.0 L481.5 204.0 L481.9 202.3 L482.3 206.1 L482.7 204.5 L483.1 206.0 L483.5 203.8 L483.9 204.2 L484.3 208.6 L484.8 207.7 L485.2 206.1 L485.6 206.2 L486.0 206.5 L486.4 207.7 L486.8 207.4 L487.2 207.4 L487.6 208.5 L488.1 207.4 L488.5 211.4 L488.9 208.4 L489.3 210.5 L489.7 208.4 L490.1 210.0 L490.5 210.8 L490.9 209.5 L491.4 211.1 L491.8 211.2 L492.2 212.1 L492.6 210.4 L493.0 209.9 L493.4 209.4 L493.8 210.9 L494.2 209.6 L494.7 210.9 L495.1 211.1 L495.5 210.5 L495.9 210.0 L496.3 211.8 L496.7 211.8 L497.1 211.8 L497.5 211.6 L498.0 212.8 L498.4 210.7 L498.8 212.5 L499.2 211.6 L499.6 213.2 L500.0 211.9 L500.4 212.0 L500.9 213.0 L501.3 210.2 L501.7 212.2 L502.1 210.6 L502.5 211.6 L502.9 213.5 L503.3 213.2 L503.7 212.3 L504.2 212.8 L504.6 212.9 L505.0 213.3 L505.4 215.1 L505.8 213.3 L506.2 215.6 L506.6 212.7 L507.0 214.0 L507.5 214.1 L507.9 213.5 L508.3 213.0 L508.7 215.0 L509.1 215.4 L509.5 214.7 L509.9 215.9 L510.3 214.7 L510.8 211.8 L511.2 214.9 L511.6 213.0 L512.0 215.3 L512.4 213.5 L512.8 214.2 L513.2 214.0 L513.6 213.3 L514.1 212.0 L514.5 213.8 L514.9 213.9 L515.3 215.2 L515.7 213.5 L516.1 214.5 L516.5 213.3 L516.9 214.4 L517.4 212.3 L517.8 216.6 L518.2 214.7 L518.6 213.4 L519.0 214.8 L519.4 215.4 L519.8 214.8 L520.2 216.1 L520.7 214.4 L521.1 211.7 L521.5 213.2 L521.9 215.8 L522.3 215.6 L522.7 215.1 L523.1 213.5 L523.6 215.6 L524.0 215.4 L524.4 213.6 L524.8 213.7 L525.2 215.1 L525.6 216.0 L526.0 216.5 L526.4 215.6 L526.9 217.3 L527.3 213.9 L527.7 215.5 L528.1 214.3 L528.5 212.7 L528.9 213.5 L529.3 216.2 L529.7 213.9 L530.2 213.6 L530.6 215.8 L531.0 216.0 L531.4 215.1 L531.8 216.8 L532.2 213.3 L532.6 217.8 L533.0 216.3 L533.5 215.4 L533.9 215.3 L534.3 214.9 L534.7 214.8 L535.1 215.4 L535.5 213.8 L535.9 217.6 L536.3 215.2 L536.8 216.0 L537.2 215.1 L537.6 215.0 L538.0 216.3 L538.4 216.0 L538.8 214.4 L539.2 214.9 L539.6 216.1 L540.1 213.0 L540.5 212.7 L540.9 217.1 L541.3 215.1" stroke="#ff0000"/>
<path d="M87.3 222.3 L87.7 221.5 L88.1 222.8 L88.5 222.1 L88.9 222.4 L89.3 222.9 L89.8 222.6 L90.2 222.5 L90.6 222.7 L91.0 221.7 L91.4 223.2 L91.8 222.3 L92.2 222.3 L92.6 222.7 L93.1 222.4 L93.5 222.1 L93.9 222.4 L94.3 222.3 L94.7 222.2 L95.1 223.2 L95.5 221.9 L95.9 221.6 L96.4 222.1 L96.8 222.1 L97.2 223.0 L97.6 222.5 L98.0 222.8 L98.4 222.7 L98.8 222.1 L99.2 222.8 L99.7 222.5 L100.1 223.2 L100.5 222.5 L100.9 222.4 L101.3 222.7 L101.7 222.7 L102.1 221.7 L102.5 222.9 L103.0 222.9 L103.4 222.8 L103.8 222.0 L104.2 221.6 L104.6 222.3 L105.0 222.7 L105.4 222.6 L105.8 222.0 L106.3 222.8 L106.7 221.9 L107.1 221.9 L107.5 222.4 L107.9 222.2 L108.3 222.2 L108.7 221.8 L109.2 222.9 L109.6 222.0 L110.0 222.6 L110.4 222.7 L110.8 222.4 L111.2 222.5 L111.6 222.8 L112.0 223.1 L112.5 222.6 L112.9 221.2 L113.3 220.2 L113.7 219.6 L114.1 217.9 L114.5 217.0 L114.9 215.1 L115.3 213.1 L115.8 211.8 L116.2 210.4 L116.6 209.0 L117.0 208.6 L117.4 208.4 L117.8 207.5 L118.2 207.3 L118.6 206.5 L119.1 206.6 L119.5 206.4 L119.9 206.1 L120.3 206.0 L120.7 206.0 L121.1 205.7 L121.5 205.1 L121.9 204.9 L122.4 204.5 L122.8 205.5 L123.2 204.8 L123.6 204.6 L124.0 204.2 L124.4 204.2 L124.8 204.1 L125.2 203.4 L125.7 203.5 L126.1 203.9 L126.5 202.8 L126.9 202.7 L127.3 203.2 L127.7 202.5 L128.1 203.0 L128.6 202.1 L129.0 202.5 L129.4 202.5 L129.8 202.2 L130.2 202.2 L130.6 201.7 L131.0 201.6 L131.4 201.5 L131.9 201.6 L132.3 202.6 L132.7 201.1 L133.1 201.7 L133.5 200.7 L133.9 200.3 L134.3 200.5 L134.7 200.6 L135.2 200.4 L135.6 200.2 L136.0 200.3 L136.4 200.2 L136.8 200.2 L137.2 199.3 L137.6 199.6 L138.0 199.2 L138.5 199.6 L138.9 199.3 L139.3 199.4 L139.7 199.0 L140.1 198.8 L140.5 199.0 L140.9 199.2 L141.3 199.2 L141.8 198.2 L142.2 198.8 L142.6 198.7 L143.0 198.0 L143.4 198.1 L143.8 198.2 L144.2 198.5 L144.6 197.4 L145.1 198.1 L145.5 198.0 L145.9 198.2 L146.3 198.6 L146.7 198.5 L147.1 197.8 L147.5 197.7 L147.9 197.9 L148.4 198.2 L148.8 198.3 L149.2 197.8 L149.6 198.2 L150.0 197.3 L150.4 197.2 L150.8 196.5 L151.3 197.2 L151.7 197.8 L152.1 197.9 L152.5 198.9 L152.9 197.8 L153.3 197.6 L153.7 197.1 L154.1 197.3 L154.6 197.3 L155.0 197.4 L155.4 197.2 L155.8 197.0 L156.2 198.1 L156.6 198.1 L157.0 198.8 L157.4 198.0 L157.9 198.4 L158.3 199.0 L158.7 200.1 L159.1 199.9 L159.5 200.4 L159.9 200.7 L160.3 201.2 L160.7 201.3 L161.2 202.0 L161.6 201.9 L162.0 202.5 L162.4 203.1 L162.8 203.4 L163.2 203.9 L163.6 203.7 L164.0 204.4 L164.5 204.4 L164.9 204.9 L165.3 205.5 L165.7 204.8 L166.1 205.8 L166.5 205.3 L166.9 205.6 L167.3 206.6 L167.8 206.6 L168.2 206.6 L168.6 206.9 L169.0 207.3 L169.4 206.7 L169.8 207.3 L170.2 207.2 L170.7 207.7 L171.1 207.6 L171.5 208.2 L171.9 208.1 L172.3 208.1 L172.7 208.4 L173.1 208.8 L173.5 209.2 L174.0 208.9 L174.4 209.0 L174.8 209.4 L175.2 209.8 L175.6 209.5 L176.0 208.9 L176.4 210.1 L176.8 210.0 L177.3 210.1 L177.7 211.4 L178.1 210.4 L178.5 210.9 L178.9 210.2 L179.3 210.9 L179.7 211.3 L180.1 211.2 L180.6 211.1 L181.0 211.5 L181.4 211.4 L181.8 212.1 L182.2 211.7 L182.6 211.4 L183.0 211.0 L183.4 211.6 L183.9 211.8 L184.3 211.5 L184.7 211.6 L185.1 211.5 L185.5 211.7 L185.9 212.3 L186.3 212.2 L186.7 212.3 L187.2 212.3 L187.6 212.4 L188.0 212.8 L188.4 213.4 L188.8 212.9 L189.2 213.5 L189.6 212.7 L190.0 212.8 L190.5 213.5 L190.9 212.6 L191.3 212.6 L191.7 212.9 L192.1 212.2 L192.5 212.1 L192.9 213.3 L193.4 212.4 L193.8 212.6 L194.2 212.6 L194.6 212.3 L195.0 213.0 L195.4 212.9 L195.8 212.9 L196.2 212.9 L196.7 212.6 L197.1 213.1 L197.5 212.9 L197.9 212.3 L198.3 212.5 L198.7 212.3 L199.1 213.1 L199.5 212.6 L200.0 212.4 L200.4 212.0 L200.8 212.1 L201.2 211.4 L201.6 211.7 L202.0 211.6 L202.4 211.5 L202.8 211.1 L203.3 211.4 L203.7 210.7 L204.1 210.9 L204.5 210.9 L204.9 210.8 L205.3 210.5 L205.7 210.2 L206.1 210.1 L206.6 210.2 L207.0 209.8 L207.4 209.9 L207.8 209.3 L208.2 209.6 L208.6 210.3 L209.0 208.8 L209.4 209.1 L209.9 209.4 L210.3 208.9 L210.7 209.0 L211.1 207.6 L211.5 208.1 L211.9 208.6 L212.3 207.5 L212.8 207.5 L213.2 206.1 L213.6 206.8 L214.0 206.9 L214.4 205.5 L214.8 205.2 L215.2 204.7 L215.6 204.7 L216.1 203.1 L216.5 202.0 L216.9 202.8 L217.3 200.9 L217.7 201.0 L218.1 199.4 L218.5 199.7 L218.9 199.5 L219.4 198.6 L219.8 198.4 L220.2 198.5 L220.6 197.6 L221.0 197.8 L221.4 198.0 L221.8 196.2 L222.2 196.9 L222.7 196.8 L223.1 196.1 L223.5 196.6 L223.9 196.3 L224.3 195.8 L224.7 195.7 L225.1 195.3 L225.5 194.7 L226.0 195.2 L226.4 194.6 L226.8 194.4 L227.2 194.9 L227.6 194.2 L228.0 194.5 L228.4 193.6 L228.8 193.6 L229.3 193.7 L229.7 194.0 L230.1 193.3 L230.5 193.6 L230.9 192.9 L231.3 193.2 L231.7 193.4 L232.2 192.6 L232.6 192.6 L233.0 193.0 L233.4 192.3 L233.8 192.7 L234.2 192.7 L234.6 192.4 L235.0 192.7 L235.5 192.5 L235.9 192.3 L236.3 191.5 L236.7 191.5 L237.1 192.1 L237.5 191.3 L237.9 191.8 L238.3 191.6 L238.8 191.3 L239.2 191.5 L239.6 190.6 L240.0 191.4 L240.4 191.9 L240.8 190.9 L241.2 191.5 L241.6 191.4 L242.1 192.3 L242.5 190.7 L242.9 190.8 L243.3 190.7 L243.7 190.6 L244.1 190.2 L244.5 190.9 L244.9 190.4 L245.4 191.0 L245.8 190.8 L246.2 190.2 L246.6 190.4 L247.0 191.0 L247.4 190.3 L247.8 190.5 L248.2 190.6 L248.7 190.1 L249.1 190.4 L249.5 190.8 L249.9 190.5 L250.3 189.4 L250.7 190.6 L251.1 189.8 L251.5 189.6 L252.0 189.6 L252.4 190.2 L252.8 189.8 L253.2 189.6 L253.6 189.3 L254.0 189.8 L254.4 189.9 L254.9 189.0 L255.3 188.9 L255.7 189.2 L256.1 189.5 L256.5 189.0 L256.9 189.1 L257.3 188.7 L257.7 189.5 L258.2 188.9 L258.6 189.0 L259.0 189.3 L259.4 188.7 L259.8 188.8 L260.2 188.9 L260.6 188.5 L261.0 189.2 L261.5 188.6 L261.9 188.4 L262.3 188.4 L262.7 188.0 L263.1 188.8 L263.5 188.9 L263.9 188.2 L264.3 188.0 L264.8 187.4 L265.2 187.9 L265.6 188.4 L266.0 187.7 L266.4 188.3 L266.8 188.5 L267.2 186.9 L267.6 187.7 L268.1 187.5 L268.5 187.5 L268.9 187.0 L269.3 187.5 L269.7 187.1 L270.1 187.9 L270.5 188.0 L270.9 186.9 L271.4 186.8 L271.8 187.1 L272.2 187.2 L272.6 187.2 L273.0 187.5 L273.4 186.5 L273.8 186.8 L274.3 186.8 L274.7 186.8 L275.1 186.5 L275.5 186.7 L275.9 186.6 L276.3 187.2 L276.7 186.6 L277.1 185.9 L277.6 186.9 L278.0 186.7 L278.4 186.2 L278.8 186.2 L279.2 186.3 L279.6 187.1 L280.0 186.2 L280.4 186.9 L280.9 186.7 L281.3 186.1 L281.7 186.4 L282.1 185.9 L282.5 185.0 L282.9 185.9 L283.3 185.8 L283.7 186.4 L284.2 186.3 L284.6 186.4 L285.0 186.2 L285.4 186.4 L285.8 186.1 L286.2 185.9 L286.6 186.2 L287.0 186.3 L287.5 186.3 L287.9 185.5 L288.3 185.6 L288.7 185.2 L289.1 185.2 L289.5 185.7 L289.9 185.2 L290.3 186.0 L290.8 184.5 L291.2 184.9 L291.6 185.4 L292.0 185.8 L292.4 185.1 L292.8 186.0 L293.2 185.5 L293.6 184.9 L294.1 185.1 L294.5 185.2 L294.9 184.6 L295.3 185.3 L295.7 184.8 L296.1 185.0 L296.5 185.1 L297.0 184.5 L297.4 185.0 L297.8 183.8 L298.2 184.7 L298.6 183.7 L299.0 184.8 L299.4 184.1 L299.8 184.7 L300.3 184.7 L300.7 184.1 L301.1 183.8 L301.5 184.5 L301.9 183.5 L302.3 184.2 L302.7 183.8 L303.1 183.6 L303.6 183.5 L304.0 184.4 L304.4 183.0 L304.8 183.3 L305.2 183.7 L305.6 183.8 L306.0 184.0 L306.4 183.8 L306.9 183.0 L307.3 183.3 L307.7 183.6 L308.1 183.3 L308.5 182.4 L308.9 183.1 L309.3 183.1 L309.7 182.3 L310.2 182.6 L310.6 182.7 L311.0 182.9 L311.4 183.2 L311.8 183.0 L312.2 182.7 L312.6 182.5 L313.0 182.2 L313.5 182.1 L313.9 182.1 L314.3 182.1 L314.7 182.5 L315.1 182.9 L315.5 182.2 L315.9 182.3 L316.4 182.1 L316.8 181.9 L317.2 182.3 L317.6 182.2 L318.0 181.7 L318.4 181.6 L318.8 181.8 L319.2 181.3 L319.7 181.5 L320.1 181.8 L320.5 181.3 L320.9 180.5 L321.3 181.5 L321.7 180.7 L322.1 180.6 L322.5 180.5 L323.0 181.3 L323.4 180.2 L323.8 180.8 L324.2 180.9 L324.6 180.9 L325.0 180.5 L325.4 180.6 L325.8 180.7 L326.3 180.0 L326.7 180.8 L327.1 180.8 L327.5 180.1 L327.9 180.0 L328.3 179.8 L328.7 180.6 L329.1 179.7 L329.6 179.9 L330.0 179.4 L330.4 180.5 L330.8 179.8 L331.2 180.0 L331.6 180.4 L332.0 180.0 L332.4 179.3 L332.9 179.8 L333.3 179.9 L333.7 179.2 L334.1 179.1 L334.5 179.0 L334.9 179.7 L335.3 179.3 L335.8 178.9 L336.2 179.5 L336.6 179.4 L337.0 178.8 L337.4 178.4 L337.8 179.4 L338.2 180.0 L338.6 179.5 L339.1 179.2 L339.5 178.8 L339.9 178.5 L340.3 178.7 L340.7 178.9 L341.1 178.5 L341.5 178.9 L341.9 178.5 L342.4 178.7 L342.8 177.3 L343.2 178.0 L343.6 178.6 L344.0 178.6 L344.4 178.3 L344.8 178.7 L345.2 178.3 L345.7 178.3 L346.1 177.6 L346.5 178.0 L346.9 178.1 L347.3 178.3 L347.7 178.2 L348.1 177.7 L348.5 177.7 L349.0 177.2 L349.4 177.8 L349.8 177.1 L350.2 177.4 L350.6 177.5 L351.0 178.2 L351.4 177.9 L351.8 177.1 L352.3 176.8 L352.7 177.2 L353.1 176.9 L353.5 177.3 L353.9 177.3 L354.3 177.4 L354.7 176.7 L355.1 176.9 L355.6 177.1 L356.0 177.1 L356.4 176.7 L356.8 176.9 L357.2 177.5 L357.6 176.7 L358.0 177.6 L358.5 178.2 L358.9 178.1 L359.3 178.9 L359.7 180.1 L360.1 180.7 L360.5 182.1 L360.9 182.7 L361.3 184.0 L361.8 183.4 L362.2 185.3 L362.6 184.9 L363.0 186.2 L363.4 186.9 L363.8 187.3 L364.2 187.8 L364.6 188.4 L365.1 188.6 L365.5 189.8 L365.9 190.3 L366.3 191.5 L366.7 191.5 L367.1 192.2 L367.5 192.9 L367.9 193.1 L368.4 193.5 L368.8 193.8 L369.2 194.2 L369.6 194.9 L370.0 195.4 L370.4 195.2 L370.8 196.6 L371.2 196.6 L371.7 196.2 L372.1 198.2 L372.5 197.9 L372.9 197.7 L373.3 199.0 L373.7 197.8 L374.1 200.1 L374.5 198.9 L375.0 199.0 L375.4 199.5 L375.8 200.2 L376.2 200.2 L376.6 200.9 L377.0 200.4 L377.4 201.4 L377.9 201.3 L378.3 201.0 L378.7 202.0 L379.1 201.9 L379.5 201.9 L379.9 202.7 L380.3 202.0 L380.7 202.5 L381.2 203.4 L381.6 203.1 L382.0 203.6 L382.4 203.8 L382.8 203.7 L383.2 204.2 L383.6 203.7 L384.0 204.5 L384.5 204.0 L384.9 204.5 L385.3 204.3 L385.7 204.9 L386.1 205.0 L386.5 205.4 L386.9 204.8 L387.3 204.8 L387.8 204.4 L388.2 204.9 L388.6 205.4 L389.0 205.7 L389.4 205.5 L389.8 205.8 L390.2 205.3 L390.6 205.6 L391.1 206.4 L391.5 206.4 L391.9 205.6 L392.3 206.1 L392.7 206.3 L393.1 205.8 L393.5 206.5 L393.9 206.5 L394.4 206.6 L394.8 207.2 L395.2 206.1 L395.6 206.8 L396.0 206.5 L396.4 206.5 L396.8 205.9 L397.3 206.2 L397.7 206.1 L398.1 206.7 L398.5 206.0 L398.9 206.5 L399.3 205.7 L399.7 205.6 L400.1 205.6 L400.6 204.7 L401.0 205.1 L401.4 205.0 L401.8 205.0 L402.2 205.0 L402.6 204.4 L403.0 204.2 L403.4 205.0 L403.9 203.8 L404.3 203.9 L404.7 203.5 L405.1 203.5 L405.5 203.9 L405.9 203.7 L406.3 202.4 L406.7 202.8 L407.2 203.2 L407.6 202.3 L408.0 202.3 L408.4 202.5 L408.8 202.4 L409.2 201.9 L409.6 200.9 L410.0 200.7 L410.5 200.5 L410.9 200.0 L411.3 199.6 L411.7 200.3 L412.1 199.2 L412.5 199.0 L412.9 198.7 L413.3 198.0 L413.8 197.4 L414.2 196.9 L414.6 196.9 L415.0 196.1 L415.4 194.6 L415.8 195.2 L416.2 194.9 L416.6 193.5 L417.1 192.7 L417.5 192.1 L417.9 191.9 L418.3 190.1 L418.7 189.7 L419.1 188.6 L419.5 187.1 L420.0 185.6 L420.4 184.1 L420.8 183.0 L421.2 182.2 L421.6 180.9 L422.0 180.3 L422.4 179.3 L422.8 179.4 L423.3 179.0 L423.7 177.6 L424.1 178.1 L424.5 177.4 L424.9 177.1 L425.3 177.0 L425.7 176.7 L426.1 175.8 L426.6 177.0 L427.0 175.5 L427.4 174.7 L427.8 175.4 L428.2 175.3 L428.6 174.8 L429.0 174.2 L429.4 175.2 L429.9 174.5 L430.3 174.4 L430.7 173.9 L431.1 173.9 L431.5 173.5 L431.9 173.7 L432.3 173.3 L432.7 173.3 L433.2 173.1 L433.6 172.7 L434.0 172.5 L434.4 172.7 L434.8 171.4 L435.2 171.9 L435.6 172.2 L436.0 171.1 L436.5 171.7 L436.9 171.1 L437.3 171.1 L437.7 170.9 L438.1 170.7 L438.5 170.9 L438.9 170.5 L439.4 169.6 L439.8 171.1 L440.2 170.0 L440.6 169.7 L441.0 170.2 L441.4 170.1 L441.8 168.6 L442.2 169.4 L442.7 168.3 L443.1 168.8 L443.5 168.8 L443.9 168.5 L444.3 168.3 L444.7 167.9 L445.1 168.1 L445.5 168.0 L446.0 167.9 L446.4 167.3 L446.8 167.4 L447.2 167.9 L447.6 167.7 L448.0 167.2 L448.4 167.5 L448.8 167.3 L449.3 167.4 L449.7 167.0 L450.1 166.6 L450.5 166.3 L450.9 166.6 L451.3 165.7 L451.7 166.4 L452.1 165.0 L452.6 165.8 L453.0 165.9 L453.4 166.1 L453.8 167.0 L454.2 166.0 L454.6 166.0 L455.0 165.5 L455.4 167.4 L455.9 167.3 L456.3 169.7 L456.7 171.5 L457.1 175.0 L457.5 176.3 L457.9 179.1 L458.3 181.3 L458.7 184.2 L459.2 187.3 L459.6 189.1 L460.0 191.9 L460.4 194.5 L460.8 197.0 L461.2 199.3 L461.6 201.8 L462.1 203.9 L462.5 205.1 L462.9 205.0 L463.3 206.2 L463.7 207.3 L464.1 208.2 L464.5 208.7 L464.9 209.3 L465.4 210.1 L465.8 210.8 L466.2 210.2 L466.6 211.4 L467.0 212.1 L467.4 212.7 L467.8 212.8 L468.2 212.6 L468.7 212.9 L469.1 213.6 L469.5 213.9 L469.9 214.4 L470.3 215.0 L470.7 214.4 L471.1 215.1 L471.5 214.6 L472.0 216.2 L472.4 216.2 L472.8 216.0 L473.2 216.5 L473.6 217.1 L474.0 217.0 L474.4 216.7 L474.8 216.8 L475.3 217.0 L475.7 216.7 L476.1 216.9 L476.5 217.2 L476.9 217.5 L477.3 217.7 L477.7 217.5 L478.1 217.5 L478.6 217.9 L479.0 217.9 L479.4 218.3 L479.8 218.9 L480.2 218.8 L480.6 218.3 L481.0 218.5 L481.5 218.2 L481.9 218.9 L482.3 218.6 L482.7 218.5 L483.1 218.6 L483.5 219.3 L483.9 219.1 L484.3 219.0 L484.8 219.5 L485.2 218.9 L485.6 218.7 L486.0 219.4 L486.4 218.4 L486.8 219.3 L487.2 219.3 L487.6 219.4 L488.1 219.6 L488.5 219.1 L488.9 219.3 L489.3 218.7 L489.7 219.1 L490.1 219.2 L490.5 219.5 L490.9 220.0 L491.4 219.5 L491.8 219.8 L492.2 219.2 L492.6 219.6 L493.0 218.9 L493.4 219.3 L493.8 219.3 L494.2 219.6 L494.7 219.6 L495.1 219.4 L495.5 219.4 L495.9 220.0 L496.3 219.6 L496.7 218.8 L497.1 219.8 L497.5 219.9 L498.0 220.1 L498.4 220.4 L498.8 219.4 L499.2 219.9 L499.6 219.8 L500.0 219.3 L500.4 219.0 L500.9 220.3 L501.3 219.6 L501.7 219.8 L502.1 219.9 L502.5 219.8 L502.9 220.1 L503.3 219.4 L503.7 219.8 L504.2 219.9 L504.6 219.6 L505.0 219.7 L505.4 219.9 L505.8 220.0 L506.2 219.4 L506.6 219.9 L507.0 220.2 L507.5 220.5 L507.9 220.3 L508.3 220.6 L508.7 220.1 L509.1 220.1 L509.5 221.0 L509.9 220.2 L510.3 219.9 L510.8 220.1 L511.2 220.6 L511.6 219.7 L512.0 220.5 L512.4 220.7 L512.8 220.7 L513.2 220.3 L513.6 219.9 L514.1 219.8 L514.5 220.2 L514.9 220.8 L515.3 220.6 L515.7 220.7 L516.1 220.4 L516.5 221.0 L516.9 220.3 L517.4 220.1 L517.8 220.4 L518.2 220.2 L518.6 220.7 L519.0 220.9 L519.4 220.6 L519.8 220.0 L520.2 220.0 L520.7 220.6 L521.1 220.0 L521.5 220.6 L521.9 219.9 L522.3 220.3 L522.7 220.6 L523.1 220.2 L523.6 220.8 L524.0 220.9 L524.4 221.1 L524.8 220.4 L525.2 220.5 L525.6 220.6 L526.0 220.7 L526.4 220.0 L526.9 220.7 L527.3 220.8 L527.7 220.1 L528.1 220.0 L528.5 220.5 L528.9 221.3 L529.3 220.8 L529.7 220.4 L530.2 220.6 L530.6 220.0 L531.0 221.2 L531.4 220.4 L531.8 220.9 L532.2 220.2 L532.6 220.7 L533.0 220.3 L533.5 220.9 L533.9 221.2 L534.3 221.1 L534.7 221.0 L535.1 221.1 L535.5 220.3 L535.9 220.2 L536.3 220.7 L536.8 221.2 L537.2 220.8 L537.6 221.0 L538.0 220.2 L538.4 220.7 L538.8 220.6 L539.2 221.0 L539.6 221.6 L540.1 221.1 L540.5 221.3 L540.9 220.7 L541.3 220.8" stroke="#0000ff"/>
</g>
<rect x="46.0" y="11.2" width="495.30" height="220.40" fill="none" stroke="#000" stroke-width="2.8"/>
<line x1="87.28" y1="11.2" x2="87.28" y2="16.4" stroke="#000" stroke-width="2.6"/>
<line x1="87.28" y1="231.6" x2="87.28" y2="226.4" stroke="#000" stroke-width="2.6"/>
<line x1="190.46" y1="11.2" x2="190.46" y2="16.4" stroke="#000" stroke-width="2.6"/>
<line x1="190.46" y1="231.6" x2="190.46" y2="226.4" stroke="#000" stroke-width="2.6"/>
<line x1="293.65" y1="11.2" x2="293.65" y2="16.4" stroke="#000" stroke-width="2.6"/>
<line x1="293.65" y1="231.6" x2="293.65" y2="226.4" stroke="#000" stroke-width="2.6"/>
<line x1="396.84" y1="11.2" x2="396.84" y2="16.4" stroke="#000" stroke-width="2.6"/>
<line x1="396.84" y1="231.6" x2="396.84" y2="226.4" stroke="#000" stroke-width="2.6"/>
<line x1="500.02" y1="11.2" x2="500.02" y2="16.4" stroke="#000" stroke-width="2.6"/>
<line x1="500.02" y1="231.6" x2="500.02" y2="226.4" stroke="#000" stroke-width="2.6"/>
<line x1="46.0" y1="222.45" x2="51.2" y2="222.45" stroke="#000" stroke-width="2.6"/>
<line x1="541.3" y1="222.45" x2="536.0999999999999" y2="222.45" stroke="#000" stroke-width="2.6"/>
<line x1="46.0" y1="187.25" x2="51.2" y2="187.25" stroke="#000" stroke-width="2.6"/>
<line x1="541.3" y1="187.25" x2="536.0999999999999" y2="187.25" stroke="#000" stroke-width="2.6"/>
<line x1="46.0" y1="152.05" x2="51.2" y2="152.05" stroke="#000" stroke-width="2.6"/>
<line x1="541.3" y1="152.05" x2="536.0999999999999" y2="152.05" stroke="#000" stroke-width="2.6"/>
<line x1="46.0" y1="116.85" x2="51.2" y2="116.85" stroke="#000" stroke-width="2.6"/>
<line x1="541.3" y1="116.85" x2="536.0999999999999" y2="116.85" stroke="#000" stroke-width="2.6"/>
<line x1="46.0" y1="81.65" x2="51.2" y2="81.65" stroke="#000" stroke-width="2.6"/>
<line x1="541.3" y1="81.65" x2="536.0999999999999" y2="81.65" stroke="#000" stroke-width="2.6"/>
<line x1="46.0" y1="46.45" x2="51.2" y2="46.45" stroke="#000" stroke-width="2.6"/>
<line x1="541.3" y1="46.45" x2="536.0999999999999" y2="46.45" stroke="#000" stroke-width="2.6"/>
<text x="87.28" y="248.8" text-anchor="middle" class="b">0</text>
<text x="190.46" y="248.8" text-anchor="middle" class="b">50</text>
<text x="293.65" y="248.8" text-anchor="middle" class="b">100</text>
<text x="396.84" y="248.8" text-anchor="middle" class="b">150</text>
<text x="500.02" y="248.8" text-anchor="middle" class="b">200</text>
<text x="43.2" y="227.8" text-anchor="end" class="b">0</text>
<text x="43.2" y="192.6" text-anchor="end" class="b">0.2</text>
<text x="43.2" y="157.3" text-anchor="end" class="b">0.4</text>
<text x="43.2" y="122.1" text-anchor="end" class="b">0.6</text>
<text x="43.2" y="86.9" text-anchor="end" class="b">0.8</text>
<text x="43.2" y="51.7" text-anchor="end" class="b">1</text>
<text x="293.6" y="265.0" text-anchor="middle" class="b">Time (ns)</text>
<text transform="translate(16.2 121.4) rotate(-90)" text-anchor="middle" class="b">Intensity (a. u.)</text>
<line x1="53.7" y1="25.9" x2="77.3" y2="25.9" stroke="#ff0000" stroke-width="3"/>
<text x="80.1" y="31.9" class="b lg">input 1</text>
<line x1="53.7" y1="45.0" x2="77.3" y2="45.0" stroke="#00ff00" stroke-width="3"/>
<text x="80.1" y="51.0" class="b lg">input 2</text>
<line x1="53.7" y1="64.1" x2="77.3" y2="64.1" stroke="#0000ff" stroke-width="3"/>
<text x="80.1" y="70.1" class="b lg">input 3</text>
<text transform="translate(81.8 116.8) scale(1.045 1)" class="p">(a)</text>
<line x1="87.28" y1="275.0" x2="87.28" y2="495.8" stroke="#a8a8a8" stroke-width="1.45" stroke-dasharray="2.4 0.7 0.6 0.7"/>
<line x1="190.46" y1="275.0" x2="190.46" y2="495.8" stroke="#a8a8a8" stroke-width="1.45" stroke-dasharray="2.4 0.7 0.6 0.7"/>
<line x1="293.65" y1="275.0" x2="293.65" y2="495.8" stroke="#a8a8a8" stroke-width="1.45" stroke-dasharray="2.4 0.7 0.6 0.7"/>
<line x1="396.84" y1="275.0" x2="396.84" y2="495.8" stroke="#a8a8a8" stroke-width="1.45" stroke-dasharray="2.4 0.7 0.6 0.7"/>
<line x1="500.02" y1="275.0" x2="500.02" y2="495.8" stroke="#a8a8a8" stroke-width="1.45" stroke-dasharray="2.4 0.7 0.6 0.7"/>
<line x1="46.0" y1="487.50" x2="541.3" y2="487.50" stroke="#a8a8a8" stroke-width="1.45" stroke-dasharray="2.4 0.7 0.6 0.7"/>
<line x1="46.0" y1="454.74" x2="541.3" y2="454.74" stroke="#a8a8a8" stroke-width="1.45" stroke-dasharray="2.4 0.7 0.6 0.7"/>
<line x1="46.0" y1="421.98" x2="541.3" y2="421.98" stroke="#a8a8a8" stroke-width="1.45" stroke-dasharray="2.4 0.7 0.6 0.7"/>
<line x1="46.0" y1="389.22" x2="541.3" y2="389.22" stroke="#a8a8a8" stroke-width="1.45" stroke-dasharray="2.4 0.7 0.6 0.7"/>
<line x1="46.0" y1="356.46" x2="541.3" y2="356.46" stroke="#a8a8a8" stroke-width="1.45" stroke-dasharray="2.4 0.7 0.6 0.7"/>
<line x1="46.0" y1="323.70" x2="541.3" y2="323.70" stroke="#a8a8a8" stroke-width="1.45" stroke-dasharray="2.4 0.7 0.6 0.7"/>
<clipPath id="c2"><rect x="46.0" y="275.0" width="495.30" height="220.80"/></clipPath>
<g clip-path="url(#c2)" fill="none" stroke-linejoin="round" stroke-width="2.45">
<path d="M87.3 488.3 L87.7 487.9 L88.1 486.0 L88.5 488.4 L88.9 488.4 L89.3 487.7 L89.8 488.2 L90.2 487.9 L90.6 486.7 L91.0 484.5 L91.4 486.3 L91.8 480.9 L92.2 475.5 L92.6 469.2 L93.1 461.9 L93.5 455.1 L93.9 447.3 L94.3 442.5 L94.7 436.0 L95.1 429.9 L95.5 424.2 L95.9 419.8 L96.4 414.6 L96.8 412.4 L97.2 409.6 L97.6 407.6 L98.0 406.7 L98.4 405.1 L98.8 404.4 L99.2 402.4 L99.7 402.6 L100.1 402.5 L100.5 400.7 L100.9 399.9 L101.3 401.6 L101.7 397.8 L102.1 398.9 L102.5 398.6 L103.0 397.0 L103.4 397.5 L103.8 397.7 L104.2 394.5 L104.6 397.3 L105.0 395.8 L105.4 394.4 L105.8 395.9 L106.3 394.4 L106.7 393.4 L107.1 390.9 L107.5 393.5 L107.9 392.1 L108.3 390.8 L108.7 390.8 L109.2 391.5 L109.6 389.3 L110.0 389.0 L110.4 388.1 L110.8 386.8 L111.2 386.4 L111.6 386.4 L112.0 385.9 L112.5 386.7 L112.9 385.2 L113.3 384.3 L113.7 384.5 L114.1 383.5 L114.5 383.9 L114.9 381.1 L115.3 380.0 L115.8 382.0 L116.2 380.8 L116.6 381.1 L117.0 379.2 L117.4 379.7 L117.8 379.7 L118.2 379.7 L118.6 379.0 L119.1 379.8 L119.5 377.9 L119.9 379.1 L120.3 377.6 L120.7 377.8 L121.1 376.7 L121.5 377.6 L121.9 376.4 L122.4 378.1 L122.8 376.4 L123.2 377.0 L123.6 376.5 L124.0 376.4 L124.4 375.4 L124.8 378.2 L125.2 375.8 L125.7 377.5 L126.1 374.8 L126.5 377.8 L126.9 376.7 L127.3 377.3 L127.7 374.0 L128.1 376.7 L128.6 375.3 L129.0 375.8 L129.4 376.9 L129.8 375.4 L130.2 374.3 L130.6 375.1 L131.0 373.9 L131.4 375.0 L131.9 374.6 L132.3 374.8 L132.7 374.0 L133.1 372.3 L133.5 373.7 L133.9 373.7 L134.3 374.4 L134.7 374.4 L135.2 372.1 L135.6 374.5 L136.0 374.1 L136.4 373.2 L136.8 373.4 L137.2 370.9 L137.6 375.0 L138.0 372.2 L138.5 371.7 L138.9 373.4 L139.3 372.8 L139.7 371.6 L140.1 370.3 L140.5 372.7 L140.9 373.2 L141.3 370.5 L141.8 369.8 L142.2 371.5 L142.6 373.2 L143.0 369.4 L143.4 370.8 L143.8 369.3 L144.2 370.3 L144.6 370.4 L145.1 370.3 L145.5 368.3 L145.9 368.1 L146.3 371.4 L146.7 370.1 L147.1 367.2 L147.5 369.1 L147.9 369.9 L148.4 368.4 L148.8 368.4 L149.2 368.2 L149.6 368.5 L150.0 368.2 L150.4 368.2 L150.8 367.3 L151.3 368.2 L151.7 367.6 L152.1 367.3 L152.5 365.7 L152.9 366.5 L153.3 366.9 L153.7 366.1 L154.1 366.1 L154.6 365.3 L155.0 365.6 L155.4 364.1 L155.8 364.1 L156.2 365.0 L156.6 365.0 L157.0 363.2 L157.4 363.1 L157.9 363.3 L158.3 364.2 L158.7 364.1 L159.1 361.5 L159.5 360.6 L159.9 360.2 L160.3 361.8 L160.7 359.0 L161.2 360.1 L161.6 358.8 L162.0 358.3 L162.4 359.1 L162.8 358.4 L163.2 359.4 L163.6 357.9 L164.0 358.3 L164.5 355.7 L164.9 355.6 L165.3 354.3 L165.7 354.4 L166.1 355.0 L166.5 353.6 L166.9 353.9 L167.3 352.5 L167.8 352.3 L168.2 353.2 L168.6 351.8 L169.0 351.3 L169.4 351.2 L169.8 349.7 L170.2 348.5 L170.7 350.2 L171.1 349.8 L171.5 351.3 L171.9 348.8 L172.3 348.8 L172.7 350.1 L173.1 347.3 L173.5 346.7 L174.0 347.6 L174.4 346.9 L174.8 347.1 L175.2 345.0 L175.6 346.9 L176.0 345.3 L176.4 342.8 L176.8 344.3 L177.3 343.5 L177.7 343.7 L178.1 344.4 L178.5 342.9 L178.9 342.1 L179.3 343.2 L179.7 341.5 L180.1 340.3 L180.6 340.1 L181.0 342.4 L181.4 341.4 L181.8 341.7 L182.2 338.7 L182.6 338.8 L183.0 338.4 L183.4 339.6 L183.9 339.5 L184.3 338.0 L184.7 337.6 L185.1 338.2 L185.5 336.9 L185.9 336.1 L186.3 336.1 L186.7 337.0 L187.2 337.8 L187.6 335.7 L188.0 335.0 L188.4 335.1 L188.8 335.1 L189.2 335.1 L189.6 333.4 L190.0 333.9 L190.5 333.5 L190.9 334.3 L191.3 333.7 L191.7 332.7 L192.1 333.6 L192.5 333.6 L192.9 332.5 L193.4 330.8 L193.8 331.6 L194.2 330.1 L194.6 331.5 L195.0 331.5 L195.4 332.4 L195.8 331.4 L196.2 329.2 L196.7 330.2 L197.1 329.6 L197.5 329.4 L197.9 330.0 L198.3 330.1 L198.7 329.7 L199.1 329.0 L199.5 329.2 L200.0 329.0 L200.4 329.3 L200.8 330.1 L201.2 329.6 L201.6 330.1 L202.0 328.2 L202.4 331.1 L202.8 329.2 L203.3 326.6 L203.7 329.2 L204.1 330.0 L204.5 328.9 L204.9 327.6 L205.3 329.0 L205.7 328.2 L206.1 328.7 L206.6 329.1 L207.0 325.6 L207.4 328.6 L207.8 329.2 L208.2 329.1 L208.6 328.2 L209.0 328.2 L209.4 327.9 L209.9 328.5 L210.3 330.0 L210.7 328.1 L211.1 328.9 L211.5 328.9 L211.9 330.1 L212.3 329.2 L212.8 329.4 L213.2 328.7 L213.6 330.1 L214.0 328.6 L214.4 328.5 L214.8 329.8 L215.2 329.3 L215.6 329.5 L216.1 327.8 L216.5 331.2 L216.9 329.0 L217.3 330.3 L217.7 329.1 L218.1 327.9 L218.5 329.3 L218.9 328.6 L219.4 329.5 L219.8 326.8 L220.2 327.8 L220.6 327.6 L221.0 330.0 L221.4 329.8 L221.8 327.7 L222.2 328.9 L222.7 329.0 L223.1 328.4 L223.5 330.0 L223.9 328.0 L224.3 328.7 L224.7 328.3 L225.1 329.4 L225.5 328.2 L226.0 329.4 L226.4 327.8 L226.8 327.6 L227.2 327.9 L227.6 328.2 L228.0 328.1 L228.4 331.4 L228.8 327.9 L229.3 329.0 L229.7 328.7 L230.1 329.1 L230.5 330.1 L230.9 329.3 L231.3 328.1 L231.7 327.4 L232.2 329.4 L232.6 329.7 L233.0 327.4 L233.4 329.7 L233.8 326.8 L234.2 328.8 L234.6 329.7 L235.0 327.8 L235.5 327.2 L235.9 330.2 L236.3 327.3 L236.7 329.1 L237.1 327.4 L237.5 329.2 L237.9 330.4 L238.3 328.3 L238.8 327.9 L239.2 326.8 L239.6 327.2 L240.0 328.2 L240.4 329.1 L240.8 329.4 L241.2 329.1 L241.6 329.7 L242.1 329.1 L242.5 331.4 L242.9 328.7 L243.3 328.9 L243.7 326.4 L244.1 328.1 L244.5 329.4 L244.9 328.3 L245.4 330.1 L245.8 329.5 L246.2 330.7 L246.6 327.5 L247.0 328.3 L247.4 330.1 L247.8 329.0 L248.2 328.0 L248.7 328.4 L249.1 328.5 L249.5 329.8 L249.9 329.5 L250.3 328.8 L250.7 328.0 L251.1 329.7 L251.5 330.0 L252.0 327.8 L252.4 329.9 L252.8 327.9 L253.2 328.7 L253.6 328.1 L254.0 327.2 L254.4 328.2 L254.9 328.2 L255.3 329.8 L255.7 329.6 L256.1 328.3 L256.5 327.4 L256.9 327.5 L257.3 326.6 L257.7 328.6 L258.2 328.7 L258.6 327.9 L259.0 328.9 L259.4 328.9 L259.8 329.9 L260.2 327.9 L260.6 329.9 L261.0 328.4 L261.5 330.3 L261.9 327.8 L262.3 329.9 L262.7 328.0 L263.1 330.4 L263.5 329.3 L263.9 327.7 L264.3 329.6 L264.8 328.8 L265.2 329.3 L265.6 331.1 L266.0 328.5 L266.4 328.4 L266.8 329.9 L267.2 328.2 L267.6 329.6 L268.1 329.8 L268.5 328.8 L268.9 329.5 L269.3 326.5 L269.7 330.3 L270.1 328.0 L270.5 327.8 L270.9 330.7 L271.4 330.5 L271.8 328.2 L272.2 329.2 L272.6 328.4 L273.0 327.6 L273.4 329.1 L273.8 329.8 L274.3 331.4 L274.7 328.5 L275.1 329.6 L275.5 328.4 L275.9 328.5 L276.3 330.1 L276.7 327.0 L277.1 327.6 L277.6 327.9 L278.0 329.9 L278.4 329.1 L278.8 329.2 L279.2 329.1 L279.6 329.8 L280.0 328.2 L280.4 328.4 L280.9 328.3 L281.3 329.2 L281.7 327.4 L282.1 328.5 L282.5 331.3 L282.9 329.3 L283.3 328.7 L283.7 327.7 L284.2 328.9 L284.6 328.9 L285.0 329.3 L285.4 328.0 L285.8 329.1 L286.2 329.2 L286.6 329.3 L287.0 328.1 L287.5 329.1 L287.9 330.2 L288.3 328.0 L288.7 329.3 L289.1 328.2 L289.5 328.2 L289.9 327.4 L290.3 327.5 L290.8 329.1 L291.2 328.7 L291.6 329.8 L292.0 326.9 L292.4 328.1 L292.8 327.2 L293.2 328.9 L293.6 330.6 L294.1 327.0 L294.5 328.4 L294.9 328.4 L295.3 328.5 L295.7 327.9 L296.1 328.0 L296.5 330.1 L297.0 327.4 L297.4 329.0 L297.8 329.0 L298.2 326.8 L298.6 327.6 L299.0 328.8 L299.4 330.3 L299.8 328.3 L300.3 328.0 L300.7 328.6 L301.1 329.7 L301.5 329.2 L301.9 329.7 L302.3 328.2 L302.7 327.7 L303.1 327.4 L303.6 329.2 L304.0 328.2 L304.4 327.9 L304.8 328.9 L305.2 328.6 L305.6 326.3 L306.0 328.2 L306.4 327.6 L306.9 328.8 L307.3 328.4 L307.7 330.1 L308.1 328.4 L308.5 327.2 L308.9 326.3 L309.3 327.2 L309.7 327.7 L310.2 328.3 L310.6 329.0 L311.0 328.5 L311.4 327.8 L311.8 329.1 L312.2 327.4 L312.6 329.3 L313.0 330.1 L313.5 329.3 L313.9 330.0 L314.3 329.7 L314.7 327.2 L315.1 328.5 L315.5 328.1 L315.9 327.2 L316.4 327.1 L316.8 328.8 L317.2 327.0 L317.6 327.9 L318.0 328.3 L318.4 327.9 L318.8 329.7 L319.2 329.1 L319.7 328.4 L320.1 327.7 L320.5 328.7 L320.9 328.5 L321.3 327.5 L321.7 327.1 L322.1 327.8 L322.5 327.4 L323.0 329.1 L323.4 329.0 L323.8 328.5 L324.2 329.2 L324.6 329.4 L325.0 327.4 L325.4 329.3 L325.8 330.1 L326.3 328.7 L326.7 327.5 L327.1 329.3 L327.5 328.3 L327.9 330.1 L328.3 330.3 L328.7 330.7 L329.1 330.3 L329.6 328.5 L330.0 331.6 L330.4 329.0 L330.8 331.8 L331.2 331.2 L331.6 330.3 L332.0 330.7 L332.4 331.2 L332.9 333.2 L333.3 331.4 L333.7 332.9 L334.1 329.6 L334.5 332.5 L334.9 332.2 L335.3 333.7 L335.8 333.2 L336.2 334.2 L336.6 332.1 L337.0 333.5 L337.4 332.8 L337.8 334.2 L338.2 334.2 L338.6 332.6 L339.1 335.0 L339.5 336.0 L339.9 334.0 L340.3 335.7 L340.7 335.2 L341.1 334.1 L341.5 335.9 L341.9 334.5 L342.4 336.2 L342.8 334.2 L343.2 334.6 L343.6 336.5 L344.0 336.5 L344.4 337.3 L344.8 336.4 L345.2 335.7 L345.7 338.4 L346.1 336.3 L346.5 338.7 L346.9 338.4 L347.3 339.5 L347.7 335.8 L348.1 338.0 L348.5 338.0 L349.0 339.1 L349.4 337.6 L349.8 340.9 L350.2 339.0 L350.6 337.0 L351.0 339.8 L351.4 339.6 L351.8 339.1 L352.3 340.8 L352.7 340.1 L353.1 339.4 L353.5 340.3 L353.9 340.3 L354.3 341.2 L354.7 340.8 L355.1 341.2 L355.6 340.0 L356.0 340.9 L356.4 342.1 L356.8 344.4 L357.2 341.5 L357.6 341.6 L358.0 343.4 L358.5 344.7 L358.9 344.0 L359.3 342.2 L359.7 344.3 L360.1 343.9 L360.5 343.4 L360.9 342.6 L361.3 343.9 L361.8 344.2 L362.2 344.8 L362.6 342.8 L363.0 343.6 L363.4 344.9 L363.8 346.3 L364.2 345.9 L364.6 344.7 L365.1 346.2 L365.5 344.8 L365.9 345.5 L366.3 345.7 L366.7 345.5 L367.1 345.9 L367.5 347.4 L367.9 347.0 L368.4 344.6 L368.8 348.2 L369.2 347.7 L369.6 346.3 L370.0 347.7 L370.4 348.5 L370.8 349.2 L371.2 347.5 L371.7 347.2 L372.1 347.0 L372.5 348.5 L372.9 347.7 L373.3 350.0 L373.7 348.9 L374.1 350.0 L374.5 349.3 L375.0 348.9 L375.4 348.8 L375.8 350.9 L376.2 348.9 L376.6 350.8 L377.0 351.4 L377.4 350.7 L377.9 352.1 L378.3 350.8 L378.7 350.7 L379.1 351.3 L379.5 350.7 L379.9 351.7 L380.3 351.5 L380.7 353.0 L381.2 351.7 L381.6 352.7 L382.0 352.5 L382.4 352.2 L382.8 352.1 L383.2 354.0 L383.6 354.1 L384.0 353.0 L384.5 352.3 L384.9 352.6 L385.3 352.2 L385.7 351.9 L386.1 352.8 L386.5 353.5 L386.9 354.6 L387.3 354.7 L387.8 354.3 L388.2 353.7 L388.6 353.9 L389.0 354.3 L389.4 354.5 L389.8 353.9 L390.2 354.5 L390.6 354.5 L391.1 354.6 L391.5 355.5 L391.9 356.1 L392.3 354.6 L392.7 354.8 L393.1 355.4 L393.5 355.7 L393.9 353.1 L394.4 356.1 L394.8 355.7 L395.2 355.2 L395.6 356.7 L396.0 355.5 L396.4 353.9 L396.8 354.8 L397.3 355.2 L397.7 355.2 L398.1 355.8 L398.5 355.0 L398.9 356.1 L399.3 356.5 L399.7 356.0 L400.1 355.3 L400.6 355.9 L401.0 355.6 L401.4 358.3 L401.8 355.2 L402.2 354.1 L402.6 355.2 L403.0 356.9 L403.4 357.4 L403.9 356.4 L404.3 357.7 L404.7 356.0 L405.1 357.3 L405.5 355.9 L405.9 355.6 L406.3 359.0 L406.7 356.7 L407.2 357.7 L407.6 358.5 L408.0 357.7 L408.4 357.4 L408.8 356.2 L409.2 358.7 L409.6 356.3 L410.0 355.3 L410.5 356.8 L410.9 356.9 L411.3 357.5 L411.7 358.6 L412.1 357.0 L412.5 357.2 L412.9 356.9 L413.3 355.1 L413.8 357.0 L414.2 357.3 L414.6 356.2 L415.0 359.1 L415.4 359.0 L415.8 358.3 L416.2 358.6 L416.6 357.3 L417.1 358.3 L417.5 356.3 L417.9 356.6 L418.3 357.4 L418.7 358.6 L419.1 357.6 L419.5 357.5 L420.0 359.3 L420.4 358.0 L420.8 357.7 L421.2 358.2 L421.6 356.9 L422.0 357.3 L422.4 359.3 L422.8 358.5 L423.3 359.4 L423.7 358.1 L424.1 359.5 L424.5 357.8 L424.9 358.4 L425.3 357.9 L425.7 359.0 L426.1 360.3 L426.6 357.2 L427.0 359.1 L427.4 357.6 L427.8 358.6 L428.2 358.4 L428.6 357.3 L429.0 358.8 L429.4 357.8 L429.9 360.7 L430.3 358.4 L430.7 359.5 L431.1 359.4 L431.5 359.3 L431.9 359.0 L432.3 357.8 L432.7 361.3 L433.2 359.4 L433.6 360.2 L434.0 358.4 L434.4 360.0 L434.8 359.2 L435.2 360.1 L435.6 359.0 L436.0 358.7 L436.5 360.2 L436.9 359.8 L437.3 361.2 L437.7 359.7 L438.1 359.3 L438.5 361.0 L438.9 359.7 L439.4 363.5 L439.8 364.3 L440.2 366.8 L440.6 370.9 L441.0 377.0 L441.4 385.5 L441.8 394.1 L442.2 402.2 L442.7 412.5 L443.1 421.8 L443.5 428.8 L443.9 431.0 L444.3 439.3 L444.7 440.1 L445.1 440.9 L445.5 443.8 L446.0 446.5 L446.4 446.9 L446.8 447.3 L447.2 448.1 L447.6 451.3 L448.0 450.7 L448.4 452.3 L448.8 452.5 L449.3 453.3 L449.7 455.9 L450.1 457.9 L450.5 457.0 L450.9 456.5 L451.3 458.5 L451.7 459.8 L452.1 458.6 L452.6 462.8 L453.0 461.5 L453.4 463.5 L453.8 463.4 L454.2 463.8 L454.6 462.9 L455.0 465.8 L455.4 465.9 L455.9 467.4 L456.3 465.8 L456.7 467.2 L457.1 466.8 L457.5 468.8 L457.9 468.5 L458.3 467.5 L458.7 469.0 L459.2 468.5 L459.6 468.8 L460.0 469.9 L460.4 471.3 L460.8 469.0 L461.2 470.0 L461.6 469.4 L462.1 472.6 L462.5 472.4 L462.9 473.1 L463.3 472.0 L463.7 470.3 L464.1 471.0 L464.5 471.8 L464.9 471.8 L465.4 471.4 L465.8 472.6 L466.2 472.1 L466.6 472.5 L467.0 475.0 L467.4 473.4 L467.8 471.9 L468.2 473.8 L468.7 473.7 L469.1 474.4 L469.5 474.4 L469.9 473.0 L470.3 474.6 L470.7 475.5 L471.1 477.7 L471.5 475.4 L472.0 476.9 L472.4 476.8 L472.8 474.4 L473.2 474.5 L473.6 477.2 L474.0 474.6 L474.4 475.0 L474.8 476.3 L475.3 474.9 L475.7 477.3 L476.1 477.0 L476.5 477.3 L476.9 477.1 L477.3 475.2 L477.7 477.5 L478.1 477.4 L478.6 477.3 L479.0 476.2 L479.4 476.8 L479.8 475.7 L480.2 477.4 L480.6 478.0 L481.0 477.3 L481.5 476.9 L481.9 477.9 L482.3 476.8 L482.7 475.4 L483.1 477.8 L483.5 477.3 L483.9 476.1 L484.3 478.1 L484.8 478.4 L485.2 478.7 L485.6 477.2 L486.0 477.2 L486.4 477.9 L486.8 477.7 L487.2 476.5 L487.6 477.0 L488.1 479.2 L488.5 477.9 L488.9 477.8 L489.3 477.3 L489.7 478.2 L490.1 478.7 L490.5 478.6 L490.9 479.9 L491.4 478.2 L491.8 478.8 L492.2 477.8 L492.6 479.3 L493.0 478.8 L493.4 479.3 L493.8 479.5 L494.2 477.8 L494.7 479.0 L495.1 478.1 L495.5 479.7 L495.9 478.5 L496.3 480.3 L496.7 479.2 L497.1 479.2 L497.5 478.2 L498.0 478.6 L498.4 479.0 L498.8 478.1 L499.2 478.7 L499.6 478.4 L500.0 478.2 L500.4 479.1 L500.9 479.3 L501.3 478.7 L501.7 479.5 L502.1 478.7 L502.5 478.0 L502.9 478.3 L503.3 479.5 L503.7 480.4 L504.2 479.2 L504.6 479.3 L505.0 478.1 L505.4 479.5 L505.8 479.4 L506.2 478.5 L506.6 479.7 L507.0 479.4 L507.5 477.5 L507.9 477.8 L508.3 478.6 L508.7 479.0 L509.1 480.2 L509.5 478.7 L509.9 479.2 L510.3 479.1 L510.8 479.8 L511.2 479.3 L511.6 479.5 L512.0 479.0 L512.4 477.9 L512.8 479.0 L513.2 481.0 L513.6 480.3 L514.1 480.9 L514.5 480.2 L514.9 478.9 L515.3 479.0 L515.7 480.0 L516.1 479.2 L516.5 480.2 L516.9 480.9 L517.4 480.9 L517.8 480.3 L518.2 478.1 L518.6 480.8 L519.0 478.3 L519.4 478.2 L519.8 479.7 L520.2 479.6 L520.7 480.2 L521.1 479.6 L521.5 478.9 L521.9 479.6 L522.3 478.6 L522.7 478.4 L523.1 479.3 L523.6 479.3 L524.0 479.7 L524.4 479.3 L524.8 480.8 L525.2 479.3 L525.6 479.5 L526.0 480.5 L526.4 477.6 L526.9 480.7 L527.3 480.6 L527.7 479.4 L528.1 481.6 L528.5 480.5 L528.9 481.2 L529.3 480.7 L529.7 479.9 L530.2 479.4 L530.6 478.7 L531.0 479.0 L531.4 478.6 L531.8 479.2 L532.2 480.2 L532.6 478.7 L533.0 480.2 L533.5 480.4 L533.9 478.3 L534.3 479.0 L534.7 479.6 L535.1 479.1 L535.5 478.9 L535.9 481.1 L536.3 479.9 L536.8 481.0 L537.2 479.7 L537.6 480.5 L538.0 478.5 L538.4 479.3 L538.8 480.6 L539.2 479.9 L539.6 481.0 L540.1 479.8 L540.5 479.3 L540.9 479.6 L541.3 481.7" stroke="#ff0000"/>
<path d="M87.3 487.7 L87.7 487.3 L88.1 487.4 L88.5 487.0 L88.9 488.0 L89.3 487.3 L89.8 487.8 L90.2 487.4 L90.6 487.4 L91.0 487.2 L91.4 487.8 L91.8 487.4 L92.2 488.0 L92.6 488.1 L93.1 487.2 L93.5 487.0 L93.9 487.0 L94.3 485.3 L94.7 482.8 L95.1 479.3 L95.5 475.1 L95.9 469.7 L96.4 465.1 L96.8 459.3 L97.2 455.4 L97.6 453.4 L98.0 452.3 L98.4 451.6 L98.8 450.2 L99.2 449.7 L99.7 449.8 L100.1 449.7 L100.5 447.9 L100.9 448.4 L101.3 447.1 L101.7 446.4 L102.1 447.1 L102.5 446.2 L103.0 446.0 L103.4 445.3 L103.8 445.0 L104.2 443.9 L104.6 444.0 L105.0 443.9 L105.4 443.1 L105.8 443.4 L106.3 443.1 L106.7 441.9 L107.1 442.9 L107.5 442.6 L107.9 442.1 L108.3 442.4 L108.7 442.6 L109.2 441.1 L109.6 441.6 L110.0 441.3 L110.4 441.0 L110.8 441.1 L111.2 440.9 L111.6 440.2 L112.0 439.1 L112.5 439.5 L112.9 439.3 L113.3 440.1 L113.7 439.3 L114.1 439.7 L114.5 438.7 L114.9 439.0 L115.3 438.7 L115.8 438.6 L116.2 438.7 L116.6 438.9 L117.0 437.9 L117.4 438.6 L117.8 438.4 L118.2 437.9 L118.6 437.9 L119.1 437.4 L119.5 436.9 L119.9 437.1 L120.3 437.0 L120.7 436.9 L121.1 436.5 L121.5 437.5 L121.9 436.6 L122.4 437.0 L122.8 437.1 L123.2 436.5 L123.6 436.6 L124.0 436.1 L124.4 435.9 L124.8 437.2 L125.2 436.2 L125.7 435.3 L126.1 435.7 L126.5 435.4 L126.9 435.9 L127.3 436.4 L127.7 436.2 L128.1 435.4 L128.6 435.2 L129.0 435.9 L129.4 435.6 L129.8 435.3 L130.2 436.1 L130.6 435.4 L131.0 434.6 L131.4 434.3 L131.9 435.1 L132.3 434.2 L132.7 435.1 L133.1 435.2 L133.5 435.7 L133.9 434.3 L134.3 434.7 L134.7 433.6 L135.2 434.3 L135.6 434.3 L136.0 435.0 L136.4 433.6 L136.8 434.3 L137.2 434.0 L137.6 434.5 L138.0 432.6 L138.5 431.9 L138.9 431.6 L139.3 430.3 L139.7 429.1 L140.1 427.6 L140.5 426.9 L140.9 425.2 L141.3 425.0 L141.8 424.2 L142.2 423.2 L142.6 423.2 L143.0 421.5 L143.4 419.9 L143.8 419.3 L144.2 418.8 L144.6 417.5 L145.1 417.7 L145.5 416.3 L145.9 415.3 L146.3 414.6 L146.7 414.6 L147.1 413.3 L147.5 412.3 L147.9 412.6 L148.4 411.5 L148.8 411.8 L149.2 411.4 L149.6 409.7 L150.0 409.3 L150.4 408.6 L150.8 408.4 L151.3 407.8 L151.7 406.9 L152.1 406.2 L152.5 406.7 L152.9 407.0 L153.3 405.4 L153.7 405.4 L154.1 405.0 L154.6 404.9 L155.0 403.7 L155.4 404.3 L155.8 403.8 L156.2 404.4 L156.6 403.6 L157.0 403.3 L157.4 402.7 L157.9 402.2 L158.3 402.3 L158.7 401.0 L159.1 401.8 L159.5 401.4 L159.9 400.9 L160.3 401.4 L160.7 400.5 L161.2 400.3 L161.6 400.6 L162.0 399.5 L162.4 400.2 L162.8 399.9 L163.2 400.3 L163.6 400.5 L164.0 399.9 L164.5 399.7 L164.9 399.6 L165.3 398.9 L165.7 400.1 L166.1 399.4 L166.5 399.6 L166.9 398.2 L167.3 398.9 L167.8 398.8 L168.2 398.9 L168.6 398.1 L169.0 398.6 L169.4 398.3 L169.8 399.2 L170.2 397.8 L170.7 398.1 L171.1 398.0 L171.5 397.7 L171.9 398.2 L172.3 398.2 L172.7 397.8 L173.1 397.8 L173.5 398.1 L174.0 397.9 L174.4 398.1 L174.8 397.5 L175.2 397.4 L175.6 397.8 L176.0 397.1 L176.4 398.6 L176.8 398.1 L177.3 397.4 L177.7 398.4 L178.1 399.0 L178.5 397.8 L178.9 398.3 L179.3 399.1 L179.7 398.3 L180.1 399.2 L180.6 399.4 L181.0 399.0 L181.4 399.2 L181.8 399.6 L182.2 399.3 L182.6 399.7 L183.0 399.4 L183.4 399.5 L183.9 399.3 L184.3 400.0 L184.7 400.6 L185.1 400.8 L185.5 400.6 L185.9 400.1 L186.3 400.6 L186.7 401.5 L187.2 401.0 L187.6 402.1 L188.0 401.5 L188.4 402.3 L188.8 402.1 L189.2 402.3 L189.6 402.9 L190.0 402.9 L190.5 403.7 L190.9 403.6 L191.3 403.5 L191.7 402.6 L192.1 404.4 L192.5 405.1 L192.9 406.0 L193.4 405.5 L193.8 407.1 L194.2 407.1 L194.6 407.1 L195.0 408.1 L195.4 407.4 L195.8 408.1 L196.2 409.2 L196.7 409.8 L197.1 410.6 L197.5 411.3 L197.9 411.1 L198.3 411.7 L198.7 412.4 L199.1 413.0 L199.5 414.0 L200.0 414.2 L200.4 415.7 L200.8 416.0 L201.2 416.3 L201.6 417.3 L202.0 419.0 L202.4 419.9 L202.8 420.2 L203.3 420.8 L203.7 422.9 L204.1 423.0 L204.5 423.2 L204.9 423.2 L205.3 424.5 L205.7 424.2 L206.1 425.0 L206.6 424.1 L207.0 425.1 L207.4 425.6 L207.8 425.9 L208.2 425.6 L208.6 425.9 L209.0 426.8 L209.4 426.5 L209.9 427.3 L210.3 427.2 L210.7 427.6 L211.1 427.7 L211.5 427.6 L211.9 427.9 L212.3 427.4 L212.8 427.5 L213.2 428.1 L213.6 428.6 L214.0 427.9 L214.4 429.3 L214.8 429.4 L215.2 428.4 L215.6 428.6 L216.1 428.7 L216.5 429.3 L216.9 429.8 L217.3 429.6 L217.7 429.2 L218.1 429.8 L218.5 429.8 L218.9 430.1 L219.4 430.1 L219.8 429.3 L220.2 429.5 L220.6 430.2 L221.0 430.2 L221.4 430.0 L221.8 429.6 L222.2 430.4 L222.7 430.0 L223.1 430.9 L223.5 430.5 L223.9 429.9 L224.3 429.7 L224.7 430.6 L225.1 430.5 L225.5 429.9 L226.0 430.4 L226.4 430.5 L226.8 430.1 L227.2 430.3 L227.6 430.0 L228.0 430.1 L228.4 430.7 L228.8 430.6 L229.3 430.6 L229.7 431.2 L230.1 431.1 L230.5 430.3 L230.9 431.3 L231.3 430.3 L231.7 430.6 L232.2 430.7 L232.6 430.5 L233.0 430.5 L233.4 430.2 L233.8 430.9 L234.2 430.8 L234.6 430.8 L235.0 429.9 L235.5 430.3 L235.9 431.1 L236.3 430.9 L236.7 431.0 L237.1 430.7 L237.5 430.6 L237.9 429.8 L238.3 431.5 L238.8 430.3 L239.2 430.6 L239.6 431.0 L240.0 430.8 L240.4 431.0 L240.8 430.7 L241.2 430.3 L241.6 431.4 L242.1 430.2 L242.5 430.9 L242.9 430.2 L243.3 430.6 L243.7 430.3 L244.1 430.5 L244.5 430.3 L244.9 430.8 L245.4 431.1 L245.8 430.5 L246.2 430.5 L246.6 429.9 L247.0 431.6 L247.4 430.9 L247.8 430.4 L248.2 431.3 L248.7 430.9 L249.1 429.9 L249.5 430.2 L249.9 431.2 L250.3 430.2 L250.7 430.3 L251.1 430.5 L251.5 430.7 L252.0 430.7 L252.4 431.2 L252.8 431.0 L253.2 430.5 L253.6 430.8 L254.0 430.1 L254.4 431.0 L254.9 431.8 L255.3 431.0 L255.7 430.7 L256.1 430.7 L256.5 430.8 L256.9 431.2 L257.3 430.2 L257.7 431.1 L258.2 430.5 L258.6 431.0 L259.0 431.3 L259.4 430.3 L259.8 431.9 L260.2 431.2 L260.6 430.7 L261.0 431.0 L261.5 430.5 L261.9 430.9 L262.3 431.0 L262.7 429.9 L263.1 430.9 L263.5 430.9 L263.9 431.3 L264.3 431.1 L264.8 430.6 L265.2 430.6 L265.6 430.8 L266.0 431.1 L266.4 430.6 L266.8 431.5 L267.2 431.0 L267.6 430.9 L268.1 431.2 L268.5 430.8 L268.9 431.1 L269.3 431.2 L269.7 430.1 L270.1 430.5 L270.5 430.3 L270.9 430.8 L271.4 430.4 L271.8 430.5 L272.2 430.3 L272.6 429.9 L273.0 430.9 L273.4 430.7 L273.8 430.9 L274.3 432.3 L274.7 431.4 L275.1 430.8 L275.5 430.6 L275.9 431.1 L276.3 430.4 L276.7 430.3 L277.1 431.0 L277.6 430.2 L278.0 430.1 L278.4 430.6 L278.8 431.2 L279.2 430.2 L279.6 430.9 L280.0 431.0 L280.4 430.8 L280.9 431.0 L281.3 430.4 L281.7 430.5 L282.1 430.3 L282.5 430.6 L282.9 431.2 L283.3 430.9 L283.7 430.5 L284.2 431.0 L284.6 429.6 L285.0 430.9 L285.4 431.1 L285.8 430.4 L286.2 430.5 L286.6 430.8 L287.0 430.9 L287.5 430.7 L287.9 430.5 L288.3 430.5 L288.7 430.9 L289.1 430.6 L289.5 430.5 L289.9 430.5 L290.3 432.1 L290.8 431.2 L291.2 431.1 L291.6 430.9 L292.0 430.8 L292.4 430.4 L292.8 430.6 L293.2 430.9 L293.6 430.8 L294.1 430.1 L294.5 431.1 L294.9 430.7 L295.3 430.2 L295.7 430.7 L296.1 431.7 L296.5 430.7 L297.0 431.0 L297.4 430.9 L297.8 430.4 L298.2 430.6 L298.6 430.9 L299.0 430.5 L299.4 430.6 L299.8 430.8 L300.3 430.7 L300.7 430.7 L301.1 431.0 L301.5 431.0 L301.9 430.8 L302.3 431.2 L302.7 431.3 L303.1 430.3 L303.6 430.9 L304.0 430.8 L304.4 430.9 L304.8 430.8 L305.2 430.8 L305.6 430.8 L306.0 431.2 L306.4 430.4 L306.9 431.1 L307.3 430.4 L307.7 431.6 L308.1 431.3 L308.5 430.4 L308.9 430.9 L309.3 431.1 L309.7 430.7 L310.2 431.3 L310.6 430.8 L311.0 431.7 L311.4 431.0 L311.8 431.1 L312.2 430.6 L312.6 430.5 L313.0 431.2 L313.5 430.2 L313.9 431.1 L314.3 431.7 L314.7 431.8 L315.1 430.2 L315.5 430.9 L315.9 431.1 L316.4 431.1 L316.8 431.3 L317.2 430.3 L317.6 430.9 L318.0 430.1 L318.4 430.9 L318.8 431.8 L319.2 430.5 L319.7 431.0 L320.1 430.9 L320.5 430.2 L320.9 430.9 L321.3 430.3 L321.7 430.8 L322.1 431.1 L322.5 430.6 L323.0 431.1 L323.4 430.3 L323.8 430.4 L324.2 430.8 L324.6 430.6 L325.0 430.6 L325.4 430.9 L325.8 430.5 L326.3 430.9 L326.7 430.6 L327.1 431.2 L327.5 430.8 L327.9 430.7 L328.3 431.1 L328.7 431.0 L329.1 431.0 L329.6 430.5 L330.0 431.1 L330.4 430.6 L330.8 430.2 L331.2 430.7 L331.6 431.5 L332.0 430.8 L332.4 430.4 L332.9 430.9 L333.3 430.4 L333.7 430.6 L334.1 430.6 L334.5 430.9 L334.9 431.0 L335.3 430.9 L335.8 430.7 L336.2 430.5 L336.6 430.4 L337.0 430.7 L337.4 430.5 L337.8 430.3 L338.2 431.0 L338.6 430.6 L339.1 430.6 L339.5 430.3 L339.9 430.2 L340.3 430.2 L340.7 430.3 L341.1 429.7 L341.5 429.4 L341.9 429.3 L342.4 427.4 L342.8 426.2 L343.2 423.5 L343.6 422.9 L344.0 421.5 L344.4 420.1 L344.8 419.1 L345.2 417.9 L345.7 416.0 L346.1 415.6 L346.5 414.5 L346.9 413.6 L347.3 414.0 L347.7 412.3 L348.1 412.2 L348.5 411.5 L349.0 411.7 L349.4 410.5 L349.8 410.1 L350.2 410.0 L350.6 408.3 L351.0 408.4 L351.4 408.2 L351.8 407.6 L352.3 406.9 L352.7 406.5 L353.1 406.4 L353.5 405.8 L353.9 405.4 L354.3 406.2 L354.7 405.6 L355.1 405.5 L355.6 404.7 L356.0 403.9 L356.4 403.9 L356.8 404.3 L357.2 403.6 L357.6 402.8 L358.0 403.1 L358.5 402.6 L358.9 402.2 L359.3 402.8 L359.7 401.5 L360.1 401.5 L360.5 401.3 L360.9 401.8 L361.3 401.6 L361.8 401.4 L362.2 401.0 L362.6 400.9 L363.0 400.8 L363.4 400.0 L363.8 400.0 L364.2 400.8 L364.6 400.6 L365.1 399.5 L365.5 400.2 L365.9 399.4 L366.3 399.2 L366.7 400.0 L367.1 399.8 L367.5 399.6 L367.9 400.0 L368.4 400.0 L368.8 399.7 L369.2 399.1 L369.6 399.6 L370.0 399.5 L370.4 399.6 L370.8 399.9 L371.2 398.7 L371.7 400.2 L372.1 399.5 L372.5 399.0 L372.9 399.7 L373.3 398.9 L373.7 398.6 L374.1 399.4 L374.5 399.0 L375.0 399.6 L375.4 398.9 L375.8 399.2 L376.2 399.1 L376.6 398.7 L377.0 399.1 L377.4 398.8 L377.9 399.2 L378.3 399.9 L378.7 399.4 L379.1 399.3 L379.5 400.2 L379.9 399.1 L380.3 399.6 L380.7 399.6 L381.2 400.1 L381.6 399.8 L382.0 399.7 L382.4 400.0 L382.8 399.9 L383.2 400.9 L383.6 399.5 L384.0 400.6 L384.5 401.2 L384.9 400.9 L385.3 401.0 L385.7 400.6 L386.1 401.3 L386.5 401.0 L386.9 401.7 L387.3 400.5 L387.8 401.3 L388.2 400.9 L388.6 402.3 L389.0 401.8 L389.4 402.6 L389.8 402.1 L390.2 402.2 L390.6 403.3 L391.1 403.3 L391.5 403.6 L391.9 404.0 L392.3 403.9 L392.7 404.3 L393.1 404.8 L393.5 404.4 L393.9 404.5 L394.4 405.6 L394.8 405.5 L395.2 405.6 L395.6 406.0 L396.0 406.4 L396.4 406.2 L396.8 406.5 L397.3 407.1 L397.7 407.9 L398.1 407.5 L398.5 408.2 L398.9 409.5 L399.3 409.9 L399.7 409.9 L400.1 411.3 L400.6 411.5 L401.0 412.3 L401.4 413.4 L401.8 414.0 L402.2 415.4 L402.6 415.8 L403.0 417.3 L403.4 416.6 L403.9 418.0 L404.3 419.4 L404.7 421.0 L405.1 421.6 L405.5 422.2 L405.9 422.8 L406.3 423.3 L406.7 424.4 L407.2 424.3 L407.6 425.0 L408.0 425.6 L408.4 425.8 L408.8 425.3 L409.2 425.2 L409.6 426.3 L410.0 425.2 L410.5 425.4 L410.9 426.3 L411.3 426.5 L411.7 426.5 L412.1 426.2 L412.5 426.9 L412.9 427.3 L413.3 426.8 L413.8 427.9 L414.2 427.2 L414.6 426.9 L415.0 427.4 L415.4 427.3 L415.8 427.5 L416.2 427.5 L416.6 427.9 L417.1 428.4 L417.5 428.3 L417.9 428.3 L418.3 427.9 L418.7 427.8 L419.1 428.4 L419.5 429.0 L420.0 429.1 L420.4 429.0 L420.8 428.5 L421.2 429.0 L421.6 429.3 L422.0 429.7 L422.4 429.1 L422.8 429.4 L423.3 429.6 L423.7 429.6 L424.1 429.0 L424.5 429.8 L424.9 429.1 L425.3 429.3 L425.7 429.9 L426.1 429.6 L426.6 430.1 L427.0 430.4 L427.4 430.2 L427.8 430.6 L428.2 430.0 L428.6 430.3 L429.0 430.1 L429.4 430.1 L429.9 431.7 L430.3 430.4 L430.7 431.3 L431.1 430.5 L431.5 431.0 L431.9 430.6 L432.3 430.1 L432.7 431.4 L433.2 430.7 L433.6 430.8 L434.0 431.6 L434.4 430.6 L434.8 430.9 L435.2 431.1 L435.6 431.3 L436.0 429.7 L436.5 431.2 L436.9 431.8 L437.3 431.5 L437.7 431.3 L438.1 431.3 L438.5 431.2 L438.9 431.7 L439.4 431.1 L439.8 431.5 L440.2 431.9 L440.6 431.7 L441.0 431.5 L441.4 431.0 L441.8 431.1 L442.2 431.5 L442.7 432.2 L443.1 433.8 L443.5 435.6 L443.9 440.5 L444.3 444.1 L444.7 448.4 L445.1 453.3 L445.5 456.4 L446.0 459.1 L446.4 461.3 L446.8 462.4 L447.2 463.5 L447.6 464.6 L448.0 466.1 L448.4 466.8 L448.8 466.8 L449.3 469.0 L449.7 469.2 L450.1 469.6 L450.5 470.5 L450.9 470.8 L451.3 471.6 L451.7 471.9 L452.1 472.2 L452.6 473.2 L453.0 473.5 L453.4 473.9 L453.8 474.4 L454.2 474.5 L454.6 475.3 L455.0 474.8 L455.4 474.8 L455.9 475.1 L456.3 475.6 L456.7 476.8 L457.1 476.1 L457.5 477.3 L457.9 477.4 L458.3 476.9 L458.7 478.3 L459.2 477.8 L459.6 478.2 L460.0 478.6 L460.4 479.1 L460.8 478.8 L461.2 479.4 L461.6 479.0 L462.1 479.1 L462.5 480.3 L462.9 480.1 L463.3 480.1 L463.7 480.6 L464.1 480.7 L464.5 480.3 L464.9 480.5 L465.4 481.2 L465.8 480.9 L466.2 480.6 L466.6 481.4 L467.0 481.4 L467.4 480.5 L467.8 480.7 L468.2 482.0 L468.7 482.0 L469.1 481.4 L469.5 482.2 L469.9 481.9 L470.3 482.1 L470.7 481.8 L471.1 483.2 L471.5 483.1 L472.0 482.8 L472.4 481.9 L472.8 482.4 L473.2 483.1 L473.6 482.2 L474.0 482.1 L474.4 482.5 L474.8 482.6 L475.3 482.3 L475.7 482.0 L476.1 482.5 L476.5 482.3 L476.9 482.6 L477.3 482.8 L477.7 483.0 L478.1 482.5 L478.6 482.8 L479.0 482.8 L479.4 482.3 L479.8 482.5 L480.2 482.4 L480.6 483.4 L481.0 482.6 L481.5 483.1 L481.9 483.2 L482.3 483.2 L482.7 482.4 L483.1 482.6 L483.5 483.2 L483.9 483.4 L484.3 483.0 L484.8 483.2 L485.2 482.4 L485.6 483.7 L486.0 483.8 L486.4 483.2 L486.8 483.1 L487.2 483.1 L487.6 482.9 L488.1 482.4 L488.5 483.4 L488.9 483.5 L489.3 484.0 L489.7 483.2 L490.1 483.0 L490.5 483.5 L490.9 482.9 L491.4 483.4 L491.8 482.8 L492.2 483.3 L492.6 483.9 L493.0 483.8 L493.4 484.2 L493.8 484.3 L494.2 483.5 L494.7 483.2 L495.1 482.8 L495.5 483.6 L495.9 483.7 L496.3 484.0 L496.7 483.2 L497.1 483.4 L497.5 483.8 L498.0 483.3 L498.4 483.4 L498.8 484.4 L499.2 483.3 L499.6 483.6 L500.0 483.8 L500.4 483.8 L500.9 482.9 L501.3 483.0 L501.7 482.9 L502.1 484.1 L502.5 483.9 L502.9 483.3 L503.3 484.1 L503.7 483.9 L504.2 484.4 L504.6 482.9 L505.0 483.2 L505.4 483.5 L505.8 483.6 L506.2 483.8 L506.6 483.8 L507.0 483.4 L507.5 484.0 L507.9 483.2 L508.3 483.9 L508.7 484.0 L509.1 483.1 L509.5 483.7 L509.9 483.5 L510.3 483.9 L510.8 484.6 L511.2 483.5 L511.6 484.2 L512.0 483.2 L512.4 484.3 L512.8 484.5 L513.2 483.6 L513.6 483.5 L514.1 483.7 L514.5 484.2 L514.9 483.3 L515.3 484.3 L515.7 483.9 L516.1 484.0 L516.5 483.9 L516.9 483.4 L517.4 484.0 L517.8 483.5 L518.2 483.5 L518.6 484.4 L519.0 484.2 L519.4 483.9 L519.8 484.0 L520.2 483.6 L520.7 484.5 L521.1 483.5 L521.5 483.5 L521.9 483.8 L522.3 484.3 L522.7 483.8 L523.1 484.0 L523.6 483.5 L524.0 483.8 L524.4 483.5 L524.8 484.0 L525.2 483.2 L525.6 484.7 L526.0 484.2 L526.4 483.6 L526.9 484.4 L527.3 483.5 L527.7 484.3 L528.1 483.8 L528.5 484.2 L528.9 484.0 L529.3 483.7 L529.7 483.9 L530.2 484.0 L530.6 482.9 L531.0 483.8 L531.4 484.2 L531.8 483.4 L532.2 483.5 L532.6 483.3 L533.0 483.1 L533.5 484.2 L533.9 483.4 L534.3 483.4 L534.7 483.8 L535.1 483.8 L535.5 485.1 L535.9 484.1 L536.3 483.1 L536.8 484.6 L537.2 484.1 L537.6 483.8 L538.0 483.6 L538.4 483.2 L538.8 484.6 L539.2 483.9 L539.6 483.5 L540.1 484.4 L540.5 483.9 L540.9 483.1 L541.3 483.4" stroke="#00ff00"/>
<path d="M87.3 487.3 L87.7 488.4 L88.1 487.5 L88.5 487.4 L88.9 487.6 L89.3 487.5 L89.8 486.5 L90.2 487.6 L90.6 487.8 L91.0 487.4 L91.4 487.6 L91.8 487.6 L92.2 487.5 L92.6 487.2 L93.1 487.3 L93.5 487.3 L93.9 486.3 L94.3 484.8 L94.7 483.0 L95.1 479.6 L95.5 475.4 L95.9 470.5 L96.4 464.6 L96.8 459.2 L97.2 455.9 L97.6 454.4 L98.0 452.9 L98.4 452.6 L98.8 452.2 L99.2 451.0 L99.7 450.5 L100.1 449.9 L100.5 449.5 L100.9 448.8 L101.3 448.6 L101.7 447.8 L102.1 447.2 L102.5 447.2 L103.0 446.5 L103.4 447.0 L103.8 446.3 L104.2 445.2 L104.6 444.7 L105.0 444.9 L105.4 444.7 L105.8 444.8 L106.3 444.0 L106.7 443.7 L107.1 444.3 L107.5 443.4 L107.9 443.3 L108.3 443.1 L108.7 443.4 L109.2 442.7 L109.6 443.2 L110.0 442.0 L110.4 442.3 L110.8 442.5 L111.2 441.5 L111.6 441.4 L112.0 441.8 L112.5 440.7 L112.9 441.6 L113.3 441.0 L113.7 440.6 L114.1 441.6 L114.5 440.4 L114.9 440.6 L115.3 440.4 L115.8 440.6 L116.2 440.0 L116.6 440.4 L117.0 440.2 L117.4 439.9 L117.8 440.0 L118.2 439.0 L118.6 439.8 L119.1 439.5 L119.5 439.2 L119.9 439.0 L120.3 438.6 L120.7 438.5 L121.1 438.8 L121.5 438.7 L121.9 438.6 L122.4 438.3 L122.8 438.3 L123.2 438.6 L123.6 439.1 L124.0 437.7 L124.4 438.0 L124.8 438.2 L125.2 438.1 L125.7 438.4 L126.1 438.5 L126.5 438.2 L126.9 438.2 L127.3 438.3 L127.7 438.5 L128.1 438.1 L128.6 437.7 L129.0 438.0 L129.4 437.8 L129.8 438.5 L130.2 437.8 L130.6 437.8 L131.0 438.1 L131.4 438.2 L131.9 437.5 L132.3 437.8 L132.7 437.4 L133.1 437.6 L133.5 437.3 L133.9 437.6 L134.3 437.9 L134.7 437.4 L135.2 437.4 L135.6 437.1 L136.0 437.4 L136.4 437.5 L136.8 437.4 L137.2 437.7 L137.6 438.4 L138.0 438.9 L138.5 439.7 L138.9 440.2 L139.3 440.8 L139.7 441.8 L140.1 442.8 L140.5 443.8 L140.9 444.1 L141.3 446.0 L141.8 447.2 L142.2 448.3 L142.6 449.2 L143.0 449.9 L143.4 451.1 L143.8 452.0 L144.2 451.9 L144.6 453.2 L145.1 453.2 L145.5 453.8 L145.9 454.1 L146.3 454.6 L146.7 455.6 L147.1 456.4 L147.5 457.1 L147.9 457.3 L148.4 457.5 L148.8 458.6 L149.2 458.3 L149.6 458.8 L150.0 459.0 L150.4 459.7 L150.8 460.0 L151.3 460.6 L151.7 461.0 L152.1 461.8 L152.5 461.6 L152.9 461.5 L153.3 462.3 L153.7 462.5 L154.1 463.2 L154.6 462.7 L155.0 463.7 L155.4 463.4 L155.8 463.9 L156.2 464.5 L156.6 464.2 L157.0 464.7 L157.4 465.0 L157.9 465.1 L158.3 465.5 L158.7 465.9 L159.1 465.9 L159.5 466.4 L159.9 466.5 L160.3 467.1 L160.7 467.6 L161.2 467.5 L161.6 467.6 L162.0 467.6 L162.4 467.3 L162.8 468.4 L163.2 467.9 L163.6 468.8 L164.0 468.6 L164.5 468.5 L164.9 469.2 L165.3 469.2 L165.7 468.7 L166.1 468.9 L166.5 469.1 L166.9 469.4 L167.3 468.6 L167.8 469.5 L168.2 469.8 L168.6 469.1 L169.0 469.6 L169.4 470.0 L169.8 469.6 L170.2 470.0 L170.7 469.8 L171.1 470.0 L171.5 470.5 L171.9 469.8 L172.3 470.1 L172.7 470.6 L173.1 470.5 L173.5 470.0 L174.0 470.5 L174.4 470.3 L174.8 470.2 L175.2 470.4 L175.6 470.9 L176.0 470.1 L176.4 469.9 L176.8 469.9 L177.3 469.5 L177.7 469.8 L178.1 469.6 L178.5 469.2 L178.9 469.7 L179.3 468.9 L179.7 468.8 L180.1 469.0 L180.6 468.6 L181.0 468.8 L181.4 469.3 L181.8 468.5 L182.2 468.7 L182.6 468.5 L183.0 468.5 L183.4 468.0 L183.9 468.1 L184.3 468.2 L184.7 467.6 L185.1 467.2 L185.5 467.4 L185.9 467.0 L186.3 466.6 L186.7 466.4 L187.2 465.8 L187.6 465.3 L188.0 464.7 L188.4 464.6 L188.8 464.4 L189.2 464.0 L189.6 463.7 L190.0 463.9 L190.5 463.3 L190.9 463.1 L191.3 462.9 L191.7 462.7 L192.1 462.3 L192.5 461.8 L192.9 461.6 L193.4 460.4 L193.8 460.1 L194.2 459.5 L194.6 458.8 L195.0 458.1 L195.4 458.0 L195.8 457.3 L196.2 457.2 L196.7 456.9 L197.1 456.2 L197.5 454.5 L197.9 455.0 L198.3 453.6 L198.7 452.5 L199.1 452.2 L199.5 450.6 L200.0 449.6 L200.4 449.0 L200.8 447.6 L201.2 447.3 L201.6 446.8 L202.0 445.5 L202.4 445.1 L202.8 444.7 L203.3 444.2 L203.7 442.5 L204.1 443.0 L204.5 442.4 L204.9 442.2 L205.3 441.6 L205.7 441.4 L206.1 441.1 L206.6 441.2 L207.0 441.0 L207.4 440.7 L207.8 440.2 L208.2 439.5 L208.6 439.8 L209.0 439.4 L209.4 439.7 L209.9 439.8 L210.3 440.1 L210.7 439.6 L211.1 440.2 L211.5 439.5 L211.9 438.7 L212.3 439.0 L212.8 438.7 L213.2 439.1 L213.6 439.3 L214.0 438.9 L214.4 438.8 L214.8 438.2 L215.2 437.8 L215.6 438.7 L216.1 438.5 L216.5 438.4 L216.9 438.5 L217.3 438.7 L217.7 438.3 L218.1 438.1 L218.5 438.1 L218.9 438.6 L219.4 438.2 L219.8 438.7 L220.2 437.8 L220.6 438.4 L221.0 438.1 L221.4 438.2 L221.8 438.2 L222.2 438.3 L222.7 438.5 L223.1 437.3 L223.5 437.8 L223.9 437.7 L224.3 437.1 L224.7 437.8 L225.1 437.5 L225.5 437.7 L226.0 437.3 L226.4 437.5 L226.8 437.5 L227.2 437.7 L227.6 437.4 L228.0 437.1 L228.4 438.2 L228.8 437.5 L229.3 437.6 L229.7 437.5 L230.1 438.0 L230.5 437.1 L230.9 437.6 L231.3 437.4 L231.7 437.5 L232.2 437.9 L232.6 437.5 L233.0 437.9 L233.4 437.6 L233.8 437.4 L234.2 437.3 L234.6 437.2 L235.0 437.3 L235.5 436.5 L235.9 437.1 L236.3 437.6 L236.7 437.4 L237.1 437.4 L237.5 437.3 L237.9 437.4 L238.3 437.5 L238.8 436.6 L239.2 437.2 L239.6 437.3 L240.0 437.2 L240.4 437.2 L240.8 436.7 L241.2 437.0 L241.6 436.7 L242.1 438.1 L242.5 437.0 L242.9 436.7 L243.3 436.4 L243.7 437.1 L244.1 437.6 L244.5 436.9 L244.9 437.2 L245.4 437.6 L245.8 437.2 L246.2 436.7 L246.6 436.6 L247.0 436.8 L247.4 437.3 L247.8 436.2 L248.2 437.4 L248.7 437.0 L249.1 437.4 L249.5 436.5 L249.9 436.8 L250.3 436.6 L250.7 436.9 L251.1 436.9 L251.5 436.8 L252.0 437.5 L252.4 436.6 L252.8 436.6 L253.2 437.0 L253.6 436.9 L254.0 436.8 L254.4 436.4 L254.9 436.7 L255.3 436.9 L255.7 437.0 L256.1 437.4 L256.5 437.1 L256.9 436.8 L257.3 437.0 L257.7 436.8 L258.2 436.6 L258.6 436.7 L259.0 436.8 L259.4 436.7 L259.8 436.8 L260.2 436.9 L260.6 436.7 L261.0 437.4 L261.5 436.5 L261.9 437.3 L262.3 436.6 L262.7 436.9 L263.1 436.5 L263.5 436.9 L263.9 437.2 L264.3 436.5 L264.8 436.8 L265.2 436.8 L265.6 436.8 L266.0 436.5 L266.4 436.6 L266.8 436.8 L267.2 437.4 L267.6 437.0 L268.1 436.8 L268.5 436.3 L268.9 436.7 L269.3 436.9 L269.7 436.5 L270.1 436.9 L270.5 436.9 L270.9 436.8 L271.4 437.4 L271.8 436.6 L272.2 436.7 L272.6 437.0 L273.0 437.2 L273.4 436.8 L273.8 436.4 L274.3 437.1 L274.7 437.2 L275.1 436.7 L275.5 437.4 L275.9 437.6 L276.3 437.0 L276.7 437.1 L277.1 437.0 L277.6 437.0 L278.0 436.8 L278.4 436.9 L278.8 437.1 L279.2 437.0 L279.6 436.7 L280.0 436.6 L280.4 436.6 L280.9 436.6 L281.3 437.9 L281.7 437.2 L282.1 437.0 L282.5 436.8 L282.9 437.4 L283.3 436.4 L283.7 436.8 L284.2 437.1 L284.6 436.8 L285.0 437.0 L285.4 437.1 L285.8 436.7 L286.2 437.0 L286.6 437.3 L287.0 437.1 L287.5 436.9 L287.9 437.2 L288.3 436.5 L288.7 437.2 L289.1 436.3 L289.5 436.6 L289.9 437.2 L290.3 436.8 L290.8 436.5 L291.2 436.9 L291.6 437.3 L292.0 436.8 L292.4 436.2 L292.8 437.4 L293.2 436.7 L293.6 436.9 L294.1 436.9 L294.5 437.0 L294.9 437.0 L295.3 436.5 L295.7 436.7 L296.1 437.2 L296.5 436.4 L297.0 437.3 L297.4 436.7 L297.8 436.8 L298.2 436.5 L298.6 436.8 L299.0 436.6 L299.4 436.9 L299.8 436.6 L300.3 436.8 L300.7 436.2 L301.1 437.2 L301.5 436.6 L301.9 436.8 L302.3 436.9 L302.7 437.2 L303.1 436.8 L303.6 437.5 L304.0 437.4 L304.4 436.8 L304.8 437.5 L305.2 436.5 L305.6 437.1 L306.0 436.9 L306.4 437.0 L306.9 436.9 L307.3 437.1 L307.7 437.1 L308.1 437.1 L308.5 436.7 L308.9 436.7 L309.3 436.6 L309.7 436.9 L310.2 437.1 L310.6 437.6 L311.0 436.9 L311.4 436.8 L311.8 437.2 L312.2 436.8 L312.6 436.7 L313.0 437.1 L313.5 436.7 L313.9 437.0 L314.3 437.7 L314.7 437.3 L315.1 437.2 L315.5 436.9 L315.9 437.4 L316.4 437.3 L316.8 437.4 L317.2 437.2 L317.6 437.1 L318.0 436.8 L318.4 436.9 L318.8 437.1 L319.2 437.1 L319.7 437.1 L320.1 437.1 L320.5 436.7 L320.9 438.0 L321.3 437.2 L321.7 437.1 L322.1 436.8 L322.5 437.6 L323.0 437.1 L323.4 436.9 L323.8 437.4 L324.2 437.8 L324.6 437.3 L325.0 437.6 L325.4 437.0 L325.8 437.5 L326.3 436.7 L326.7 437.2 L327.1 437.5 L327.5 437.4 L327.9 437.6 L328.3 437.1 L328.7 436.8 L329.1 437.4 L329.6 437.0 L330.0 437.6 L330.4 437.2 L330.8 436.5 L331.2 437.8 L331.6 436.9 L332.0 436.9 L332.4 437.9 L332.9 437.8 L333.3 437.6 L333.7 437.0 L334.1 437.5 L334.5 437.4 L334.9 437.1 L335.3 437.4 L335.8 437.4 L336.2 437.6 L336.6 437.2 L337.0 437.9 L337.4 437.1 L337.8 437.9 L338.2 438.1 L338.6 437.7 L339.1 437.8 L339.5 438.6 L339.9 438.0 L340.3 438.6 L340.7 438.5 L341.1 438.0 L341.5 438.8 L341.9 439.0 L342.4 440.0 L342.8 440.3 L343.2 441.9 L343.6 443.3 L344.0 444.3 L344.4 445.2 L344.8 445.9 L345.2 447.0 L345.7 447.6 L346.1 448.8 L346.5 449.6 L346.9 450.2 L347.3 450.9 L347.7 451.3 L348.1 451.7 L348.5 452.2 L349.0 453.2 L349.4 454.2 L349.8 454.4 L350.2 454.6 L350.6 456.0 L351.0 455.9 L351.4 456.1 L351.8 456.9 L352.3 457.5 L352.7 457.0 L353.1 457.5 L353.5 458.4 L353.9 458.2 L354.3 458.5 L354.7 459.7 L355.1 458.8 L355.6 460.3 L356.0 460.5 L356.4 461.1 L356.8 461.1 L357.2 461.9 L357.6 461.8 L358.0 461.8 L358.5 462.4 L358.9 463.0 L359.3 462.7 L359.7 463.8 L360.1 463.5 L360.5 464.2 L360.9 464.3 L361.3 464.6 L361.8 464.8 L362.2 465.1 L362.6 465.6 L363.0 465.8 L363.4 465.8 L363.8 466.2 L364.2 466.8 L364.6 466.9 L365.1 467.2 L365.5 467.3 L365.9 467.4 L366.3 467.7 L366.7 468.2 L367.1 468.2 L367.5 468.8 L367.9 469.4 L368.4 468.6 L368.8 469.2 L369.2 469.1 L369.6 469.3 L370.0 468.8 L370.4 469.6 L370.8 469.2 L371.2 469.6 L371.7 469.9 L372.1 470.2 L372.5 469.6 L372.9 469.8 L373.3 469.7 L373.7 469.5 L374.1 470.1 L374.5 470.2 L375.0 470.4 L375.4 470.3 L375.8 470.5 L376.2 470.7 L376.6 469.8 L377.0 471.1 L377.4 470.4 L377.9 470.4 L378.3 470.5 L378.7 470.9 L379.1 470.6 L379.5 470.7 L379.9 470.9 L380.3 470.5 L380.7 470.5 L381.2 470.4 L381.6 469.9 L382.0 470.3 L382.4 469.7 L382.8 469.9 L383.2 469.4 L383.6 469.4 L384.0 469.2 L384.5 469.4 L384.9 469.2 L385.3 469.1 L385.7 468.7 L386.1 468.3 L386.5 468.1 L386.9 468.5 L387.3 468.1 L387.8 468.4 L388.2 468.3 L388.6 467.5 L389.0 467.2 L389.4 467.1 L389.8 466.9 L390.2 465.8 L390.6 466.0 L391.1 465.9 L391.5 464.3 L391.9 464.7 L392.3 464.6 L392.7 463.9 L393.1 464.1 L393.5 463.0 L393.9 463.7 L394.4 463.3 L394.8 462.5 L395.2 462.2 L395.6 460.9 L396.0 461.2 L396.4 460.3 L396.8 459.4 L397.3 458.6 L397.7 457.9 L398.1 457.5 L398.5 456.2 L398.9 456.5 L399.3 455.6 L399.7 454.8 L400.1 454.4 L400.6 453.6 L401.0 452.7 L401.4 451.7 L401.8 450.8 L402.2 449.5 L402.6 448.8 L403.0 447.2 L403.4 447.0 L403.9 445.0 L404.3 444.3 L404.7 443.8 L405.1 443.5 L405.5 443.0 L405.9 441.8 L406.3 441.8 L406.7 441.4 L407.2 441.6 L407.6 440.8 L408.0 441.2 L408.4 440.7 L408.8 441.1 L409.2 440.6 L409.6 440.1 L410.0 440.3 L410.5 440.2 L410.9 439.7 L411.3 439.9 L411.7 439.4 L412.1 440.5 L412.5 439.5 L412.9 439.4 L413.3 440.0 L413.8 439.9 L414.2 439.1 L414.6 439.7 L415.0 439.4 L415.4 439.0 L415.8 439.2 L416.2 438.9 L416.6 439.3 L417.1 438.9 L417.5 438.6 L417.9 438.8 L418.3 439.6 L418.7 438.6 L419.1 438.7 L419.5 439.0 L420.0 438.2 L420.4 439.2 L420.8 438.0 L421.2 438.7 L421.6 438.0 L422.0 438.4 L422.4 438.8 L422.8 438.3 L423.3 438.2 L423.7 438.1 L424.1 437.9 L424.5 438.5 L424.9 438.0 L425.3 437.9 L425.7 438.2 L426.1 438.4 L426.6 438.4 L427.0 437.9 L427.4 437.8 L427.8 438.4 L428.2 438.5 L428.6 437.7 L429.0 438.6 L429.4 438.0 L429.9 438.3 L430.3 438.6 L430.7 438.0 L431.1 438.0 L431.5 437.5 L431.9 437.2 L432.3 438.0 L432.7 437.6 L433.2 437.6 L433.6 438.1 L434.0 438.2 L434.4 437.4 L434.8 438.0 L435.2 437.9 L435.6 438.0 L436.0 437.9 L436.5 438.1 L436.9 437.6 L437.3 437.5 L437.7 438.0 L438.1 438.3 L438.5 437.9 L438.9 438.4 L439.4 438.1 L439.8 437.5 L440.2 437.1 L440.6 437.8 L441.0 438.2 L441.4 437.8 L441.8 439.0 L442.2 438.9 L442.7 438.7 L443.1 439.9 L443.5 442.0 L443.9 443.8 L444.3 446.5 L444.7 451.6 L445.1 456.7 L445.5 461.5 L446.0 465.5 L446.4 468.2 L446.8 469.2 L447.2 471.3 L447.6 472.8 L448.0 474.1 L448.4 474.6 L448.8 475.8 L449.3 476.1 L449.7 477.0 L450.1 477.1 L450.5 478.0 L450.9 478.5 L451.3 479.4 L451.7 479.5 L452.1 479.3 L452.6 478.9 L453.0 480.6 L453.4 480.8 L453.8 480.6 L454.2 480.9 L454.6 481.5 L455.0 481.5 L455.4 482.3 L455.9 482.0 L456.3 481.8 L456.7 481.6 L457.1 482.3 L457.5 482.4 L457.9 482.3 L458.3 482.2 L458.7 482.5 L459.2 483.0 L459.6 482.7 L460.0 482.6 L460.4 483.2 L460.8 483.5 L461.2 483.0 L461.6 483.2 L462.1 483.1 L462.5 483.4 L462.9 483.8 L463.3 483.8 L463.7 484.1 L464.1 484.2 L464.5 484.1 L464.9 484.2 L465.4 483.7 L465.8 484.5 L466.2 484.1 L466.6 484.3 L467.0 483.7 L467.4 484.1 L467.8 484.3 L468.2 484.0 L468.7 484.2 L469.1 484.4 L469.5 483.8 L469.9 484.1 L470.3 483.7 L470.7 484.0 L471.1 484.1 L471.5 484.3 L472.0 484.7 L472.4 484.2 L472.8 484.4 L473.2 484.2 L473.6 484.5 L474.0 484.7 L474.4 484.8 L474.8 484.3 L475.3 484.1 L475.7 484.6 L476.1 484.4 L476.5 484.1 L476.9 484.9 L477.3 484.7 L477.7 485.0 L478.1 484.3 L478.6 484.6 L479.0 484.9 L479.4 485.3 L479.8 484.8 L480.2 484.4 L480.6 484.9 L481.0 484.9 L481.5 484.6 L481.9 485.2 L482.3 484.8 L482.7 484.7 L483.1 485.1 L483.5 485.2 L483.9 484.8 L484.3 485.0 L484.8 485.0 L485.2 484.9 L485.6 484.9 L486.0 485.3 L486.4 485.3 L486.8 484.9 L487.2 484.7 L487.6 484.6 L488.1 485.3 L488.5 484.7 L488.9 484.8 L489.3 485.1 L489.7 484.9 L490.1 484.8 L490.5 484.5 L490.9 485.4 L491.4 484.9 L491.8 485.1 L492.2 485.2 L492.6 484.7 L493.0 484.8 L493.4 485.4 L493.8 485.2 L494.2 485.0 L494.7 485.6 L495.1 484.8 L495.5 485.2 L495.9 485.1 L496.3 485.0 L496.7 484.6 L497.1 485.1 L497.5 485.3 L498.0 484.6 L498.4 485.3 L498.8 485.3 L499.2 485.6 L499.6 484.8 L500.0 485.1 L500.4 485.0 L500.9 485.1 L501.3 485.2 L501.7 485.4 L502.1 485.4 L502.5 485.1 L502.9 485.2 L503.3 484.7 L503.7 485.5 L504.2 485.4 L504.6 485.5 L505.0 484.8 L505.4 485.6 L505.8 485.0 L506.2 484.8 L506.6 485.3 L507.0 485.0 L507.5 485.9 L507.9 485.4 L508.3 485.8 L508.7 485.2 L509.1 485.2 L509.5 485.5 L509.9 485.0 L510.3 485.1 L510.8 485.4 L511.2 485.4 L511.6 485.8 L512.0 485.3 L512.4 484.6 L512.8 485.5 L513.2 485.2 L513.6 485.5 L514.1 485.0 L514.5 485.2 L514.9 485.4 L515.3 485.9 L515.7 485.5 L516.1 484.9 L516.5 485.4 L516.9 485.1 L517.4 485.5 L517.8 485.9 L518.2 485.2 L518.6 485.2 L519.0 485.5 L519.4 485.5 L519.8 485.3 L520.2 485.5 L520.7 485.2 L521.1 485.4 L521.5 486.1 L521.9 485.4 L522.3 485.6 L522.7 485.6 L523.1 485.2 L523.6 485.5 L524.0 485.2 L524.4 485.0 L524.8 485.3 L525.2 485.9 L525.6 485.6 L526.0 485.1 L526.4 485.5 L526.9 485.7 L527.3 485.4 L527.7 485.3 L528.1 485.3 L528.5 485.2 L528.9 485.7 L529.3 485.5 L529.7 485.5 L530.2 485.4 L530.6 486.1 L531.0 485.5 L531.4 485.9 L531.8 485.0 L532.2 485.0 L532.6 484.9 L533.0 485.2 L533.5 485.6 L533.9 485.2 L534.3 485.5 L534.7 485.3 L535.1 485.8 L535.5 485.7 L535.9 485.3 L536.3 484.9 L536.8 485.5 L537.2 484.8 L537.6 484.6 L538.0 485.9 L538.4 485.5 L538.8 485.8 L539.2 485.6 L539.6 485.7 L540.1 485.5 L540.5 485.2 L540.9 485.2 L541.3 485.5" stroke="#0000ff"/>
<path d="M87.3 487.5 L98.2 487.5 L98.2 377.8 L155.0 366.1 L201.2 323.7 L319.7 323.7 L391.1 356.1 L445.7 367.3 L446.0 435.4" stroke="#000" stroke-width="2.6" stroke-dasharray="1.35 0.85"/>
<path d="M446.2 435.4 L446.2 487.5 L455.2 487.5" stroke="#000" stroke-width="1.5"/>
<path d="M98.2 435.4 L141.1 435.4" stroke="#000" stroke-width="2.9" stroke-linecap="round" stroke-dasharray="0.1 2.75"/>
<path d="M203.1 435.4 L343.2 435.4" stroke="#000" stroke-width="2.9" stroke-linecap="round" stroke-dasharray="0.1 2.75"/>
<path d="M405.1 435.4 L446.0 435.4" stroke="#000" stroke-width="2.9" stroke-linecap="round" stroke-dasharray="0.1 2.75"/>
<path d="M141.1 435.4 L141.2 433.9 L141.2 432.4 L141.4 430.9 L141.5 429.5 L141.7 428.0 L142.0 426.5 L142.3 425.1 L142.7 423.7 L143.1 422.3 L143.6 420.9 L144.1 419.5 L144.6 418.2 L145.2 416.9 L145.8 415.6 L146.5 414.3 L147.2 413.1 L147.9 411.9 L148.7 410.8 L149.6 409.7 L150.4 408.6 L151.3 407.6 L152.2 406.6 L153.2 405.7 L154.2 404.8 L155.2 404.0 L156.3 403.2 L157.3 402.4 L158.4 401.8 L159.5 401.1 L160.7 400.5 L161.8 400.0 L163.0 399.6 L164.2 399.1 L165.4 398.8 L166.6 398.5 L167.8 398.3 L169.0 398.1 L170.2 398.0 L171.5 397.9 L172.7 397.9 L173.9 398.0 L175.2 398.1 L176.4 398.3 L177.6 398.5 L178.8 398.8 L180.0 399.1 L181.2 399.6 L182.4 400.0 L183.5 400.5 L184.6 401.1 L185.8 401.8 L186.9 402.4 L187.9 403.2 L189.0 404.0 L190.0 404.8 L191.0 405.7 L191.9 406.6 L192.9 407.6 L193.8 408.6 L194.6 409.7 L195.5 410.8 L196.2 411.9 L197.0 413.1 L197.7 414.3 L198.4 415.6 L199.0 416.9 L199.6 418.2 L200.1 419.5 L200.6 420.9 L201.1 422.3 L201.5 423.7 L201.9 425.1 L202.2 426.5 L202.4 428.0 L202.7 429.5 L202.8 430.9 L203.0 432.4 L203.0 433.9 L203.1 435.4" stroke="#000" stroke-width="2.5" stroke-linecap="round" stroke-dasharray="0.1 2.7"/>
<path d="M141.1 435.4 L141.2 436.9 L141.2 438.5 L141.4 440.0 L141.5 441.5 L141.7 443.0 L142.0 444.5 L142.3 446.0 L142.7 447.5 L143.1 449.0 L143.6 450.4 L144.1 451.8 L144.6 453.2 L145.2 454.5 L145.8 455.8 L146.5 457.1 L147.2 458.4 L147.9 459.6 L148.7 460.8 L149.6 461.9 L150.4 463.0 L151.3 464.1 L152.2 465.1 L153.2 466.0 L154.2 467.0 L155.2 467.8 L156.3 468.6 L157.3 469.4 L158.4 470.1 L159.5 470.7 L160.7 471.3 L161.8 471.9 L163.0 472.4 L164.2 472.8 L165.4 473.1 L166.6 473.5 L167.8 473.7 L169.0 473.9 L170.2 474.0 L171.5 474.1 L172.7 474.1 L173.9 474.0 L175.2 473.9 L176.4 473.7 L177.6 473.5 L178.8 473.1 L180.0 472.8 L181.2 472.4 L182.4 471.9 L183.5 471.3 L184.6 470.7 L185.8 470.1 L186.9 469.4 L187.9 468.6 L189.0 467.8 L190.0 467.0 L191.0 466.0 L191.9 465.1 L192.9 464.1 L193.8 463.0 L194.6 461.9 L195.5 460.8 L196.2 459.6 L197.0 458.4 L197.7 457.1 L198.4 455.8 L199.0 454.5 L199.6 453.2 L200.1 451.8 L200.6 450.4 L201.1 449.0 L201.5 447.5 L201.9 446.0 L202.2 444.5 L202.4 443.0 L202.7 441.5 L202.8 440.0 L203.0 438.5 L203.0 436.9 L203.1 435.4" stroke="#000" stroke-width="2.5" stroke-linecap="round" stroke-dasharray="0.1 2.7"/>
<path d="M343.2 435.4 L343.2 433.9 L343.3 432.4 L343.4 430.9 L343.6 429.5 L343.8 428.0 L344.1 426.5 L344.4 425.1 L344.7 423.7 L345.1 422.3 L345.6 420.9 L346.1 419.5 L346.6 418.2 L347.2 416.9 L347.9 415.6 L348.5 414.3 L349.2 413.1 L350.0 411.9 L350.8 410.8 L351.6 409.7 L352.5 408.6 L353.4 407.6 L354.3 406.6 L355.3 405.7 L356.2 404.8 L357.3 404.0 L358.3 403.2 L359.4 402.4 L360.5 401.8 L361.6 401.1 L362.7 400.5 L363.9 400.0 L365.0 399.6 L366.2 399.1 L367.4 398.8 L368.6 398.5 L369.8 398.3 L371.1 398.1 L372.3 398.0 L373.5 397.9 L374.8 397.9 L376.0 398.0 L377.2 398.1 L378.4 398.3 L379.6 398.5 L380.9 398.8 L382.0 399.1 L383.2 399.6 L384.4 400.0 L385.6 400.5 L386.7 401.1 L387.8 401.8 L388.9 402.4 L390.0 403.2 L391.0 404.0 L392.0 404.8 L393.0 405.7 L394.0 406.6 L394.9 407.6 L395.8 408.6 L396.7 409.7 L397.5 410.8 L398.3 411.9 L399.0 413.1 L399.7 414.3 L400.4 415.6 L401.0 416.9 L401.6 418.2 L402.2 419.5 L402.7 420.9 L403.1 422.3 L403.5 423.7 L403.9 425.1 L404.2 426.5 L404.5 428.0 L404.7 429.5 L404.9 430.9 L405.0 432.4 L405.1 433.9 L405.1 435.4" stroke="#000" stroke-width="2.5" stroke-linecap="round" stroke-dasharray="0.1 2.7"/>
<path d="M343.2 435.4 L343.2 436.9 L343.3 438.5 L343.4 440.0 L343.6 441.5 L343.8 443.0 L344.1 444.5 L344.4 446.0 L344.7 447.5 L345.1 449.0 L345.6 450.4 L346.1 451.8 L346.6 453.2 L347.2 454.5 L347.9 455.8 L348.5 457.1 L349.2 458.4 L350.0 459.6 L350.8 460.8 L351.6 461.9 L352.5 463.0 L353.4 464.1 L354.3 465.1 L355.3 466.0 L356.2 467.0 L357.3 467.8 L358.3 468.6 L359.4 469.4 L360.5 470.1 L361.6 470.7 L362.7 471.3 L363.9 471.9 L365.0 472.4 L366.2 472.8 L367.4 473.1 L368.6 473.5 L369.8 473.7 L371.1 473.9 L372.3 474.0 L373.5 474.1 L374.8 474.1 L376.0 474.0 L377.2 473.9 L378.4 473.7 L379.6 473.5 L380.9 473.1 L382.0 472.8 L383.2 472.4 L384.4 471.9 L385.6 471.3 L386.7 470.7 L387.8 470.1 L388.9 469.4 L390.0 468.6 L391.0 467.8 L392.0 467.0 L393.0 466.0 L394.0 465.1 L394.9 464.1 L395.8 463.0 L396.7 461.9 L397.5 460.8 L398.3 459.6 L399.0 458.4 L399.7 457.1 L400.4 455.8 L401.0 454.5 L401.6 453.2 L402.2 451.8 L402.7 450.4 L403.1 449.0 L403.5 447.5 L403.9 446.0 L404.2 444.5 L404.5 443.0 L404.7 441.5 L404.9 440.0 L405.0 438.5 L405.1 436.9 L405.1 435.4" stroke="#000" stroke-width="2.5" stroke-linecap="round" stroke-dasharray="0.1 2.7"/>
</g>
<rect x="46.0" y="275.0" width="495.30" height="220.80" fill="none" stroke="#000" stroke-width="2.8"/>
<line x1="87.28" y1="275.0" x2="87.28" y2="280.2" stroke="#000" stroke-width="2.6"/>
<line x1="87.28" y1="495.8" x2="87.28" y2="490.6" stroke="#000" stroke-width="2.6"/>
<line x1="190.46" y1="275.0" x2="190.46" y2="280.2" stroke="#000" stroke-width="2.6"/>
<line x1="190.46" y1="495.8" x2="190.46" y2="490.6" stroke="#000" stroke-width="2.6"/>
<line x1="293.65" y1="275.0" x2="293.65" y2="280.2" stroke="#000" stroke-width="2.6"/>
<line x1="293.65" y1="495.8" x2="293.65" y2="490.6" stroke="#000" stroke-width="2.6"/>
<line x1="396.84" y1="275.0" x2="396.84" y2="280.2" stroke="#000" stroke-width="2.6"/>
<line x1="396.84" y1="495.8" x2="396.84" y2="490.6" stroke="#000" stroke-width="2.6"/>
<line x1="500.02" y1="275.0" x2="500.02" y2="280.2" stroke="#000" stroke-width="2.6"/>
<line x1="500.02" y1="495.8" x2="500.02" y2="490.6" stroke="#000" stroke-width="2.6"/>
<line x1="46.0" y1="487.50" x2="51.2" y2="487.50" stroke="#000" stroke-width="2.6"/>
<line x1="541.3" y1="487.50" x2="536.0999999999999" y2="487.50" stroke="#000" stroke-width="2.6"/>
<line x1="46.0" y1="454.74" x2="51.2" y2="454.74" stroke="#000" stroke-width="2.6"/>
<line x1="541.3" y1="454.74" x2="536.0999999999999" y2="454.74" stroke="#000" stroke-width="2.6"/>
<line x1="46.0" y1="421.98" x2="51.2" y2="421.98" stroke="#000" stroke-width="2.6"/>
<line x1="541.3" y1="421.98" x2="536.0999999999999" y2="421.98" stroke="#000" stroke-width="2.6"/>
<line x1="46.0" y1="389.22" x2="51.2" y2="389.22" stroke="#000" stroke-width="2.6"/>
<line x1="541.3" y1="389.22" x2="536.0999999999999" y2="389.22" stroke="#000" stroke-width="2.6"/>
<line x1="46.0" y1="356.46" x2="51.2" y2="356.46" stroke="#000" stroke-width="2.6"/>
<line x1="541.3" y1="356.46" x2="536.0999999999999" y2="356.46" stroke="#000" stroke-width="2.6"/>
<line x1="46.0" y1="323.70" x2="51.2" y2="323.70" stroke="#000" stroke-width="2.6"/>
<line x1="541.3" y1="323.70" x2="536.0999999999999" y2="323.70" stroke="#000" stroke-width="2.6"/>
<text x="87.28" y="513.0" text-anchor="middle" class="b">0</text>
<text x="190.46" y="513.0" text-anchor="middle" class="b">50</text>
<text x="293.65" y="513.0" text-anchor="middle" class="b">100</text>
<text x="396.84" y="513.0" text-anchor="middle" class="b">150</text>
<text x="500.02" y="513.0" text-anchor="middle" class="b">200</text>
<text x="43.2" y="492.8" text-anchor="end" class="b">0</text>
<text x="43.2" y="460.0" text-anchor="end" class="b">0.2</text>
<text x="43.2" y="427.3" text-anchor="end" class="b">0.4</text>
<text x="43.2" y="394.5" text-anchor="end" class="b">0.6</text>
<text x="43.2" y="361.8" text-anchor="end" class="b">0.8</text>
<text x="43.2" y="329.0" text-anchor="end" class="b">1</text>
<text x="293.6" y="529.2" text-anchor="middle" class="b">Time (ns)</text>
<text transform="translate(16.2 385.4) rotate(-90)" text-anchor="middle" class="b">Intensity (a. u.)</text>
<line x1="451" y1="289.4" x2="474.4" y2="289.4" stroke="#ff0000" stroke-width="3"/>
<text x="477.0" y="295.5" class="b lg">output 1</text>
<line x1="451" y1="308.4" x2="474.4" y2="308.4" stroke="#00ff00" stroke-width="3"/>
<text x="477.0" y="314.5" class="b lg">output 2</text>
<line x1="451" y1="327.4" x2="474.4" y2="327.4" stroke="#0000ff" stroke-width="3"/>
<text x="477.0" y="333.5" class="b lg">output 3</text>
<line x1="451" y1="346.4" x2="474.4" y2="346.4" stroke="#000" stroke-width="2.4" stroke-dasharray="1.4 1.1"/>
<text x="477.0" y="352.5" class="b lg">target</text>
<text transform="translate(81.2 321) scale(1.045 1)" class="p">(b)</text>
</svg>
</body></html>
